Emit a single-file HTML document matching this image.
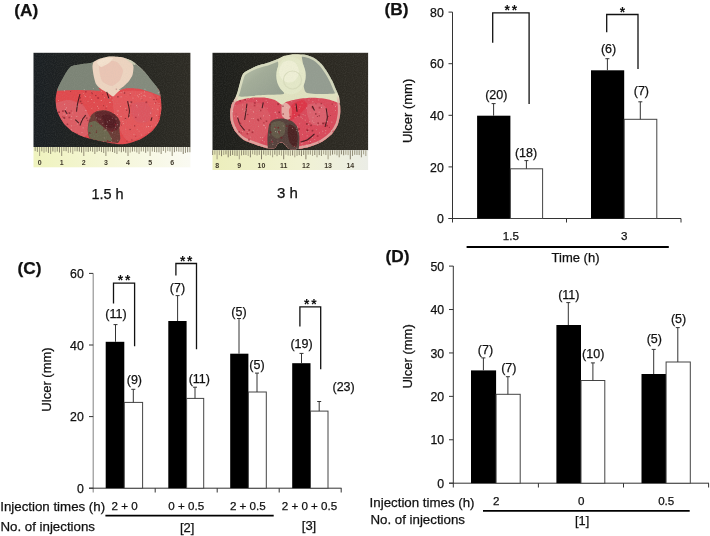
<!DOCTYPE html>
<html><head><meta charset="utf-8"><title>Figure</title>
<style>
html,body{margin:0;padding:0;background:#fff;}
body{width:710px;height:536px;overflow:hidden;position:relative;}
svg{position:absolute;left:0;top:0;display:block;}
text{font-family:"Liberation Sans", Arial, Helvetica, sans-serif;fill:#111;stroke:#111;stroke-width:0.25px;}
</style></head><body>
<svg width="710" height="536" viewBox="0 0 710 536">
<defs>
<filter id="soft" x="-5%" y="-5%" width="110%" height="110%"><feGaussianBlur stdDeviation="0.55"/></filter>
<filter id="soft3" x="-20%" y="-20%" width="140%" height="140%"><feGaussianBlur stdDeviation="2.5"/></filter>
<linearGradient id="bg1" x1="0" y1="0" x2="1" y2="0"><stop offset="0" stop-color="#1a1f23"/><stop offset="0.45" stop-color="#22231f"/><stop offset="1" stop-color="#2d2b24"/></linearGradient>
<linearGradient id="bg2" x1="0" y1="0" x2="1" y2="0"><stop offset="0" stop-color="#1c1d1a"/><stop offset="0.5" stop-color="#28261f"/><stop offset="1" stop-color="#2e2b24"/></linearGradient>
<linearGradient id="rul1" x1="0" y1="0" x2="1" y2="0"><stop offset="0" stop-color="#eff3be"/><stop offset="0.5" stop-color="#f5f6d8"/><stop offset="1" stop-color="#fafaf2"/></linearGradient>
<linearGradient id="rul2" x1="0" y1="0" x2="1" y2="0"><stop offset="0" stop-color="#eceebc"/><stop offset="0.55" stop-color="#f1f2d2"/><stop offset="1" stop-color="#ebede6"/></linearGradient>
<linearGradient id="gl2" x1="0" y1="0" x2="1" y2="1"><stop offset="0" stop-color="#c4ccb4"/><stop offset="0.45" stop-color="#a2ac98"/><stop offset="1" stop-color="#929c8e"/></linearGradient>
<linearGradient id="base1" gradientUnits="userSpaceOnUse" x1="0" y1="52" x2="0" y2="146"><stop offset="0" stop-color="#7f8778"/><stop offset="0.38" stop-color="#7f8778"/><stop offset="0.39" stop-color="#e0484e"/><stop offset="1" stop-color="#e0484e"/></linearGradient>
<filter id="grain" x="0" y="0" width="100%" height="100%"><feTurbulence type="fractalNoise" baseFrequency="0.9" numOctaves="1" seed="4" result="n"/><feColorMatrix in="n" type="matrix" values="0 0 0 0 0.5  0 0 0 0 0.5  0 0 0 0 0.45  1.2 0 0 0 -0.45"/></filter>
<linearGradient id="rim2" gradientUnits="userSpaceOnUse" x1="0" y1="52" x2="0" y2="150"><stop offset="0" stop-color="#e2e4c6"/><stop offset="0.44" stop-color="#e2e4c6"/><stop offset="0.5" stop-color="#e0b4aa"/><stop offset="1" stop-color="#e0b4aa"/></linearGradient>
</defs>
<rect x="33.5" y="52.8" width="156.9" height="94.2" fill="url(#bg1)"/>
<clipPath id="cp1"><path d="M70.67,66.73 C72.40,65.42 77.73,64.83 79.97,64.41 C82.20,63.99 89.48,63.38 91.58,62.78 C93.69,62.19 97.74,59.50 99.72,58.83 C101.70,58.16 107.70,56.66 110.18,56.51 C112.66,56.36 120.60,56.94 122.96,57.44 C125.31,57.93 130.52,60.16 132.25,61.16 C133.99,62.15 137.74,65.39 139.23,66.73 C140.71,68.07 144.71,72.02 146.20,73.70 C147.69,75.39 151.81,80.80 153.17,82.54 C154.53,84.27 158.19,88.48 158.98,89.97 C159.77,91.46 160.33,94.55 160.61,96.48 C160.88,98.41 161.68,105.50 161.54,108.10 C161.39,110.70 160.23,118.40 159.21,120.88 C158.20,123.36 153.89,129.43 152.01,131.34 C150.12,133.25 143.91,137.54 141.55,138.78 C139.20,140.01 132.16,142.36 129.93,142.96 C127.70,143.55 122.74,144.35 120.63,144.35 C118.53,144.35 112.66,143.40 110.18,142.96 C107.70,142.51 100.12,140.79 97.39,140.17 C94.67,139.55 87.22,138.04 84.61,137.15 C82.01,136.26 75.22,133.29 72.99,131.80 C70.76,130.32 65.36,125.36 63.70,123.20 C62.04,121.05 58.29,114.06 57.42,111.58 C56.56,109.11 55.56,102.32 55.56,99.97 C55.56,97.61 56.56,91.99 57.42,89.51 C58.29,87.03 62.28,79.15 63.70,76.73 C65.11,74.30 68.93,68.05 70.67,66.73 Z"/></clipPath>
<g filter="url(#soft)">
<path d="M70.67,66.73 C72.40,65.42 77.73,64.83 79.97,64.41 C82.20,63.99 89.48,63.38 91.58,62.78 C93.69,62.19 97.74,59.50 99.72,58.83 C101.70,58.16 107.70,56.66 110.18,56.51 C112.66,56.36 120.60,56.94 122.96,57.44 C125.31,57.93 130.52,60.16 132.25,61.16 C133.99,62.15 137.74,65.39 139.23,66.73 C140.71,68.07 144.71,72.02 146.20,73.70 C147.69,75.39 151.81,80.80 153.17,82.54 C154.53,84.27 158.19,88.48 158.98,89.97 C159.77,91.46 160.33,94.55 160.61,96.48 C160.88,98.41 161.68,105.50 161.54,108.10 C161.39,110.70 160.23,118.40 159.21,120.88 C158.20,123.36 153.89,129.43 152.01,131.34 C150.12,133.25 143.91,137.54 141.55,138.78 C139.20,140.01 132.16,142.36 129.93,142.96 C127.70,143.55 122.74,144.35 120.63,144.35 C118.53,144.35 112.66,143.40 110.18,142.96 C107.70,142.51 100.12,140.79 97.39,140.17 C94.67,139.55 87.22,138.04 84.61,137.15 C82.01,136.26 75.22,133.29 72.99,131.80 C70.76,130.32 65.36,125.36 63.70,123.20 C62.04,121.05 58.29,114.06 57.42,111.58 C56.56,109.11 55.56,102.32 55.56,99.97 C55.56,97.61 56.56,91.99 57.42,89.51 C58.29,87.03 62.28,79.15 63.70,76.73 C65.11,74.30 68.93,68.05 70.67,66.73 Z" fill="url(#base1)" />
<g clip-path="url(#cp1)">
<path d="M55.56,103.45 C57.00,101.84 66.53,99.72 69.51,99.97 C72.48,100.21 81.22,103.67 83.45,105.78 C85.68,107.88 89.93,116.74 90.42,119.72 C90.92,122.69 89.34,131.68 88.10,133.66 C86.86,135.65 81.28,138.81 78.80,138.31 C76.32,137.81 67.29,131.49 64.86,129.01 C62.43,126.54 57.02,117.80 56.03,115.07 C55.04,112.34 54.13,105.06 55.56,103.45 Z" fill="#da6068" opacity="0.85"/>
<path d="M113.66,94.16 C115.65,92.05 128.29,90.79 132.25,90.67 C136.22,90.55 148.00,91.38 150.85,92.99 C153.70,94.60 158.36,102.43 158.98,105.78 C159.60,109.12 158.51,121.02 156.66,124.37 C154.80,127.71 144.65,135.41 141.55,137.15 C138.45,138.88 130.09,141.75 127.61,140.63 C125.13,139.52 119.80,129.91 118.31,126.69 C116.82,123.47 114.16,113.89 113.66,110.42 C113.17,106.95 111.68,96.26 113.66,94.16 Z" fill="#e45a5e" opacity="0.8"/>
<path d="M132.25,103.45 C133.87,102.34 144.09,101.30 146.20,102.29 C148.31,103.28 151.88,110.64 152.01,112.75 C152.13,114.85 148.97,121.05 147.36,122.04 C145.75,123.03 138.64,123.03 136.90,122.04 C135.17,121.05 131.59,114.73 131.09,112.75 C130.60,110.76 130.64,104.57 132.25,103.45 Z" fill="#d85460" opacity="0.7"/>
<path d="M48.59,89.97 C46.11,88.44 51.50,78.59 53.24,75.56 C54.97,72.54 62.38,63.48 64.86,61.62 C67.34,59.76 73.38,58.63 76.48,58.13 C79.58,57.64 92.12,55.61 93.91,56.97 C95.69,58.34 93.09,68.44 93.21,70.92 C93.34,73.39 94.50,78.35 95.07,80.21 C95.64,82.07 98.06,87.23 98.56,88.35 C99.05,89.46 102.07,90.50 99.72,90.67 C97.36,90.84 81.93,90.05 76.48,89.97 C71.03,89.90 51.07,91.51 48.59,89.97 Z" fill="#7c8476" />
<path d="M92.50,66.00 C92.66,64.29 93.99,60.17 95.00,59.00 C96.01,57.83 100.19,55.64 102.00,55.00 C103.81,54.36 109.55,53.21 112.00,53.00 C114.45,52.79 122.23,52.79 125.00,53.00 C127.77,53.21 135.33,54.04 138.00,55.00 C140.67,55.96 148.08,60.40 150.00,62.00 C151.92,63.60 156.64,68.83 156.00,70.00 C155.36,71.17 146.03,72.36 144.00,73.00 C141.97,73.64 138.49,75.15 137.00,76.00 C135.51,76.85 131.39,79.83 130.00,81.00 C128.61,82.17 125.28,85.83 124.00,87.00 C122.72,88.17 119.17,90.99 118.00,92.00 C116.83,93.01 114.07,96.39 113.00,96.50 C111.93,96.61 109.28,93.80 108.00,93.00 C106.72,92.20 102.28,89.96 101.00,89.00 C99.72,88.04 96.80,85.49 96.00,84.00 C95.20,82.51 93.87,76.92 93.50,75.00 C93.13,73.08 92.34,67.71 92.50,66.00 Z" fill="#edd4c0" />
<path d="M99.00,66.00 C99.53,63.87 105.08,61.43 107.00,61.00 C108.92,60.57 115.29,61.04 117.00,62.00 C118.71,62.96 122.68,68.08 123.00,70.00 C123.32,71.92 121.17,78.29 120.00,80.00 C118.83,81.71 113.92,85.89 112.00,86.00 C110.08,86.11 103.39,83.13 102.00,81.00 C100.61,78.87 98.47,68.13 99.00,66.00 Z" fill="#e8c0b0" opacity="0.75"/>
<path d="M97.00,62.00 C97.32,61.04 102.29,58.43 104.00,58.00 C105.71,57.57 112.47,57.47 113.00,58.00 C113.53,58.53 110.28,62.04 109.00,63.00 C107.72,63.96 102.28,67.11 101.00,67.00 C99.72,66.89 96.68,62.96 97.00,62.00 Z" fill="#f4e4d0" opacity="0.85"/>
<path d="M129.00,56.00 C130.01,55.57 138.44,56.04 141.00,57.00 C143.56,57.96 150.23,62.12 153.00,65.00 C155.77,67.88 165.29,80.27 167.00,84.00 C168.71,87.73 169.96,98.83 169.00,100.00 C168.04,101.17 160.03,95.85 158.00,95.00 C155.97,94.15 151.92,92.64 150.00,92.00 C148.08,91.36 142.35,89.43 140.00,89.00 C137.65,88.57 130.24,87.89 128.00,88.00 C125.76,88.11 119.43,90.21 119.00,90.00 C118.57,89.79 122.93,86.96 124.00,86.00 C125.07,85.04 128.09,82.17 129.00,81.00 C129.91,79.83 132.02,76.49 132.50,75.00 C132.98,73.51 133.61,68.49 133.50,67.00 C133.39,65.51 131.98,62.17 131.50,61.00 C131.02,59.83 127.99,56.43 129.00,56.00 Z" fill="#838a7c" />
<path d="M124.00,55.00 C124.75,54.63 131.40,55.07 133.00,55.50 C134.60,55.93 138.79,57.99 139.00,59.00 C139.21,60.01 135.85,64.57 135.00,65.00 C134.15,65.43 131.96,63.64 131.00,63.00 C130.04,62.36 126.75,59.85 126.00,59.00 C125.25,58.15 123.25,55.37 124.00,55.00 Z" fill="#d0d0b6" opacity="0.9"/>
<path d="M91.10,115.40 C92.02,114.21 95.64,111.64 97.20,111.10 C98.76,110.56 104.06,110.11 105.70,110.30 C107.34,110.49 111.32,112.16 112.60,112.90 C113.88,113.64 116.88,116.20 117.70,117.20 C118.52,118.20 120.11,120.93 120.30,122.30 C120.49,123.67 119.50,128.26 119.50,130.00 C119.50,131.74 120.49,137.22 120.30,138.60 C120.11,139.98 119.26,142.56 117.70,142.90 C116.14,143.24 107.89,141.94 105.70,141.80 C103.51,141.66 98.94,142.04 97.20,141.60 C95.46,141.16 90.41,138.94 89.40,137.70 C88.39,136.46 87.79,131.64 87.70,130.00 C87.61,128.36 88.24,123.86 88.60,122.30 C88.96,120.74 90.18,116.59 91.10,115.40 Z" fill="#6a3a34" />
<path d="M95.40,113.00 C96.04,112.02 101.34,110.85 103.00,110.80 C104.66,110.75 109.45,111.79 111.00,112.50 C112.55,113.21 116.59,116.27 117.50,117.50 C118.41,118.73 119.55,122.67 119.50,124.00 C119.45,125.33 118.01,129.25 117.00,130.00 C115.99,130.75 111.49,131.32 110.00,131.00 C108.51,130.68 104.39,128.17 103.00,127.00 C101.61,125.83 97.81,121.49 97.00,120.00 C96.19,118.51 94.76,113.98 95.40,113.00 Z" fill="#5e2228" opacity="0.8"/>
<path d="M102.00,116.00 C102.43,114.72 108.51,114.47 110.00,115.00 C111.49,115.53 115.57,119.61 116.00,121.00 C116.43,122.39 115.07,127.36 114.00,128.00 C112.93,128.64 107.28,128.28 106.00,127.00 C104.72,125.72 101.57,117.28 102.00,116.00 Z" fill="#3e1418" opacity="0.4"/>
<path d="M89.00,123.00 C89.75,122.04 93.61,120.68 95.00,121.00 C96.39,121.32 100.61,124.83 102.00,126.00 C103.39,127.17 106.93,130.51 108.00,132.00 C109.07,133.49 112.25,138.99 112.00,140.00 C111.75,141.01 107.28,141.36 105.70,141.50 C104.12,141.64 98.92,141.73 97.20,141.30 C95.48,140.87 90.58,138.71 89.60,137.50 C88.62,136.29 88.06,131.55 88.00,130.00 C87.94,128.45 88.25,123.96 89.00,123.00 Z" fill="#6c6c50" opacity="0.9"/>
</g>
<path d="M79.97,94.16 C79.72,95.15 78.01,101.59 77.64,103.45 C77.27,105.31 76.60,110.72 76.48,111.58" stroke="#2e1014" stroke-width="1.1" fill="none" opacity="0.85"/>
<path d="M85.78,115.07 C85.40,115.57 82.91,118.60 82.29,119.72 C81.67,120.83 80.21,124.91 79.97,125.53" stroke="#2e1014" stroke-width="1.1" fill="none" opacity="0.85"/>
<path d="M127.61,101.13 C127.80,102.12 129.37,108.69 129.47,110.42 C129.56,112.16 128.64,116.65 128.54,117.39" stroke="#2e1014" stroke-width="1.1" fill="none" opacity="0.85"/>
<path d="M152.01,117.39 C151.88,117.77 150.97,120.51 150.85,120.88" stroke="#2e1014" stroke-width="1.1" fill="none" opacity="0.85"/>
<path d="M64.86,110.42 C65.11,110.79 66.94,113.54 67.18,113.91" stroke="#2e1014" stroke-width="1.1" fill="none" opacity="0.85"/>
<path d="M75.32,119.72 C75.69,120.09 78.43,122.83 78.80,123.20" stroke="#2e1014" stroke-width="1.1" fill="none" opacity="0.85"/>
<path d="M106.69,91.83 C106.94,92.57 108.77,98.06 109.01,98.80" stroke="#2e1014" stroke-width="1.1" fill="none" opacity="0.85"/>
</g>
<g clip-path="url(#cp1)">
<rect x="89.7" y="96.6" width="0.8" height="0.8" fill="#f6e0d0" opacity="0.55"/>
<rect x="62.8" y="118.5" width="0.8" height="0.8" fill="#ffffff" opacity="0.55"/>
<rect x="117.4" y="139.9" width="0.8" height="0.8" fill="#f0d8c8" opacity="0.55"/>
<rect x="59.0" y="112.7" width="0.8" height="0.8" fill="#f6e0d0" opacity="0.55"/>
<rect x="80.8" y="119.4" width="0.8" height="0.8" fill="#f6e0d0" opacity="0.55"/>
<rect x="143.5" y="95.1" width="0.8" height="0.8" fill="#f0d8c8" opacity="0.55"/>
<rect x="122.5" y="121.2" width="0.8" height="0.8" fill="#f6e0d0" opacity="0.55"/>
<rect x="116.8" y="110.6" width="0.8" height="0.8" fill="#f0d8c8" opacity="0.55"/>
<rect x="60.0" y="136.9" width="0.8" height="0.8" fill="#ffffff" opacity="0.55"/>
<rect x="99.8" y="118.8" width="0.8" height="0.8" fill="#ffffff" opacity="0.55"/>
<rect x="114.9" y="126.9" width="0.8" height="0.8" fill="#f6e0d0" opacity="0.55"/>
<rect x="117.2" y="124.4" width="0.8" height="0.8" fill="#ffffff" opacity="0.55"/>
<rect x="65.4" y="128.6" width="0.8" height="0.8" fill="#f6e0d0" opacity="0.55"/>
<rect x="121.2" y="116.3" width="0.8" height="0.8" fill="#e8c0b0" opacity="0.55"/>
<rect x="138.2" y="114.5" width="0.8" height="0.8" fill="#e8c0b0" opacity="0.55"/>
<rect x="93.7" y="102.2" width="0.8" height="0.8" fill="#f0d8c8" opacity="0.55"/>
<rect x="129.8" y="101.9" width="0.8" height="0.8" fill="#ffffff" opacity="0.55"/>
<rect x="111.2" y="137.9" width="0.8" height="0.8" fill="#e8c0b0" opacity="0.55"/>
<rect x="85.8" y="143.9" width="0.8" height="0.8" fill="#f6e0d0" opacity="0.55"/>
<rect x="109.8" y="97.4" width="0.8" height="0.8" fill="#ffffff" opacity="0.55"/>
<rect x="71.3" y="115.9" width="0.8" height="0.8" fill="#f6e0d0" opacity="0.55"/>
<rect x="157.9" y="92.4" width="0.8" height="0.8" fill="#ffffff" opacity="0.55"/>
<rect x="91.4" y="108.0" width="0.8" height="0.8" fill="#e8c0b0" opacity="0.55"/>
<rect x="117.0" y="114.0" width="0.8" height="0.8" fill="#f6e0d0" opacity="0.55"/>
<rect x="156.1" y="115.0" width="0.8" height="0.8" fill="#f6e0d0" opacity="0.55"/>
<rect x="61.5" y="128.0" width="0.8" height="0.8" fill="#e8c0b0" opacity="0.55"/>
<rect x="85.5" y="110.0" width="0.8" height="0.8" fill="#ffffff" opacity="0.55"/>
<rect x="57.4" y="114.3" width="0.8" height="0.8" fill="#f0d8c8" opacity="0.55"/>
<rect x="120.4" y="116.1" width="0.8" height="0.8" fill="#f0d8c8" opacity="0.55"/>
<rect x="137.2" y="95.4" width="0.8" height="0.8" fill="#f0d8c8" opacity="0.55"/>
<rect x="97.6" y="140.3" width="0.8" height="0.8" fill="#e8c0b0" opacity="0.55"/>
<rect x="63.6" y="113.6" width="0.8" height="0.8" fill="#ffffff" opacity="0.55"/>
<rect x="149.5" y="134.7" width="0.8" height="0.8" fill="#ffffff" opacity="0.55"/>
<rect x="130.6" y="144.2" width="0.8" height="0.8" fill="#e8c0b0" opacity="0.55"/>
<rect x="157.5" y="96.6" width="0.8" height="0.8" fill="#f0d8c8" opacity="0.55"/>
<rect x="71.2" y="125.5" width="0.8" height="0.8" fill="#f6e0d0" opacity="0.55"/>
<rect x="106.9" y="121.6" width="0.8" height="0.8" fill="#ffffff" opacity="0.55"/>
<rect x="85.2" y="96.3" width="0.8" height="0.8" fill="#ffffff" opacity="0.55"/>
<rect x="120.2" y="106.2" width="0.8" height="0.8" fill="#f0d8c8" opacity="0.55"/>
<rect x="128.9" y="117.4" width="0.8" height="0.8" fill="#f6e0d0" opacity="0.55"/>
<rect x="103.9" y="137.6" width="0.8" height="0.8" fill="#e8c0b0" opacity="0.55"/>
<rect x="97.6" y="110.5" width="0.8" height="0.8" fill="#e8c0b0" opacity="0.55"/>
<rect x="122.9" y="91.5" width="0.8" height="0.8" fill="#f6e0d0" opacity="0.55"/>
<rect x="160.4" y="113.1" width="0.8" height="0.8" fill="#f6e0d0" opacity="0.55"/>
<rect x="91.4" y="91.0" width="0.8" height="0.8" fill="#f6e0d0" opacity="0.55"/>
<rect x="115.6" y="118.6" width="0.8" height="0.8" fill="#ffffff" opacity="0.55"/>
<rect x="120.7" y="92.0" width="0.8" height="0.8" fill="#f0d8c8" opacity="0.55"/>
<rect x="120.7" y="96.5" width="0.8" height="0.8" fill="#ffffff" opacity="0.55"/>
<rect x="157.2" y="122.3" width="0.8" height="0.8" fill="#e8c0b0" opacity="0.55"/>
<rect x="68.1" y="136.4" width="0.8" height="0.8" fill="#e8c0b0" opacity="0.55"/>
<rect x="106.4" y="105.8" width="0.8" height="0.8" fill="#f0d8c8" opacity="0.55"/>
<rect x="65.9" y="107.5" width="0.8" height="0.8" fill="#ffffff" opacity="0.55"/>
<rect x="106.2" y="127.4" width="0.8" height="0.8" fill="#f6e0d0" opacity="0.55"/>
<rect x="77.0" y="142.3" width="0.8" height="0.8" fill="#ffffff" opacity="0.55"/>
<rect x="70.7" y="119.0" width="0.8" height="0.8" fill="#f6e0d0" opacity="0.55"/>
<rect x="136.1" y="105.0" width="0.8" height="0.8" fill="#f6e0d0" opacity="0.55"/>
<rect x="129.5" y="102.9" width="0.8" height="0.8" fill="#ffffff" opacity="0.55"/>
<rect x="152.2" y="108.3" width="0.8" height="0.8" fill="#f0d8c8" opacity="0.55"/>
<rect x="112.0" y="132.4" width="0.8" height="0.8" fill="#ffffff" opacity="0.55"/>
<rect x="123.1" y="123.0" width="0.8" height="0.8" fill="#f0d8c8" opacity="0.55"/>
<rect x="141.3" y="134.6" width="0.8" height="0.8" fill="#f0d8c8" opacity="0.55"/>
<rect x="76.4" y="116.1" width="0.8" height="0.8" fill="#f6e0d0" opacity="0.55"/>
<rect x="160.9" y="133.0" width="0.8" height="0.8" fill="#e8c0b0" opacity="0.55"/>
<rect x="82.7" y="127.5" width="0.8" height="0.8" fill="#ffffff" opacity="0.55"/>
<rect x="102.9" y="141.4" width="0.8" height="0.8" fill="#ffffff" opacity="0.55"/>
<rect x="157.2" y="108.8" width="0.8" height="0.8" fill="#f0d8c8" opacity="0.55"/>
<rect x="65.9" y="114.8" width="0.8" height="0.8" fill="#ffffff" opacity="0.55"/>
<rect x="76.9" y="123.6" width="0.8" height="0.8" fill="#f6e0d0" opacity="0.55"/>
<rect x="106.3" y="125.2" width="0.8" height="0.8" fill="#f6e0d0" opacity="0.55"/>
<rect x="144.3" y="94.8" width="0.8" height="0.8" fill="#e8c0b0" opacity="0.55"/>
<rect x="138.7" y="130.8" width="0.8" height="0.8" fill="#e8c0b0" opacity="0.55"/>
<rect x="150.1" y="112.7" width="0.8" height="0.8" fill="#ffffff" opacity="0.55"/>
<rect x="64.3" y="141.9" width="0.8" height="0.8" fill="#e8c0b0" opacity="0.55"/>
<rect x="104.6" y="130.4" width="0.8" height="0.8" fill="#f6e0d0" opacity="0.55"/>
<rect x="132.6" y="97.7" width="0.8" height="0.8" fill="#f0d8c8" opacity="0.55"/>
<rect x="57.9" y="121.7" width="0.8" height="0.8" fill="#e8c0b0" opacity="0.55"/>
<rect x="141.3" y="96.3" width="0.8" height="0.8" fill="#e8c0b0" opacity="0.55"/>
<rect x="125.3" y="108.0" width="0.8" height="0.8" fill="#f0d8c8" opacity="0.55"/>
<rect x="57.3" y="133.6" width="0.8" height="0.8" fill="#f6e0d0" opacity="0.55"/>
<rect x="111.3" y="141.2" width="0.8" height="0.8" fill="#e8c0b0" opacity="0.55"/>
<rect x="160.6" y="99.1" width="0.8" height="0.8" fill="#f0d8c8" opacity="0.55"/>
<rect x="58.0" y="100.1" width="0.8" height="0.8" fill="#f0d8c8" opacity="0.55"/>
<rect x="136.7" y="106.6" width="0.8" height="0.8" fill="#e8c0b0" opacity="0.55"/>
<rect x="144.3" y="91.5" width="0.8" height="0.8" fill="#ffffff" opacity="0.55"/>
<rect x="151.1" y="125.8" width="0.8" height="0.8" fill="#e8c0b0" opacity="0.55"/>
<rect x="143.5" y="138.1" width="0.8" height="0.8" fill="#f0d8c8" opacity="0.55"/>
<rect x="111.9" y="117.8" width="0.8" height="0.8" fill="#f6e0d0" opacity="0.55"/>
<rect x="148.4" y="132.3" width="0.8" height="0.8" fill="#f6e0d0" opacity="0.55"/>
<rect x="138.0" y="96.5" width="0.8" height="0.8" fill="#f0d8c8" opacity="0.55"/>
<rect x="105.7" y="129.3" width="0.8" height="0.8" fill="#f6e0d0" opacity="0.55"/>
<rect x="89.9" y="117.5" width="0.8" height="0.8" fill="#e8c0b0" opacity="0.55"/>
<rect x="138.9" y="94.0" width="0.8" height="0.8" fill="#f6e0d0" opacity="0.55"/>
<rect x="81.6" y="103.8" width="0.8" height="0.8" fill="#f6e0d0" opacity="0.55"/>
<rect x="109.3" y="120.0" width="0.8" height="0.8" fill="#f6e0d0" opacity="0.55"/>
<rect x="102.4" y="122.9" width="0.8" height="0.8" fill="#f0d8c8" opacity="0.55"/>
<rect x="129.1" y="113.8" width="0.8" height="0.8" fill="#e8c0b0" opacity="0.55"/>
<rect x="109.3" y="102.1" width="0.8" height="0.8" fill="#ffffff" opacity="0.55"/>
<rect x="153.7" y="138.9" width="0.8" height="0.8" fill="#f0d8c8" opacity="0.55"/>
<rect x="144.9" y="95.8" width="0.8" height="0.8" fill="#f6e0d0" opacity="0.55"/>
<rect x="97.0" y="106.0" width="0.8" height="0.8" fill="#f0d8c8" opacity="0.55"/>
<rect x="100.8" y="100.1" width="0.8" height="0.8" fill="#ffffff" opacity="0.55"/>
<rect x="138.9" y="139.1" width="0.8" height="0.8" fill="#f0d8c8" opacity="0.55"/>
<rect x="155.5" y="124.7" width="0.8" height="0.8" fill="#ffffff" opacity="0.55"/>
<rect x="70.3" y="138.3" width="0.8" height="0.8" fill="#e8c0b0" opacity="0.55"/>
<rect x="78.5" y="142.3" width="0.8" height="0.8" fill="#e8c0b0" opacity="0.55"/>
<rect x="149.7" y="97.3" width="0.8" height="0.8" fill="#f0d8c8" opacity="0.55"/>
<rect x="72.3" y="112.6" width="0.8" height="0.8" fill="#e8c0b0" opacity="0.55"/>
<rect x="91.3" y="99.2" width="0.8" height="0.8" fill="#ffffff" opacity="0.55"/>
<rect x="64.9" y="108.9" width="0.8" height="0.8" fill="#ffffff" opacity="0.55"/>
<rect x="114.3" y="113.1" width="0.8" height="0.8" fill="#f6e0d0" opacity="0.55"/>
<rect x="96.1" y="117.5" width="0.8" height="0.8" fill="#ffffff" opacity="0.55"/>
<rect x="109.8" y="91.7" width="0.8" height="0.8" fill="#f0d8c8" opacity="0.55"/>
<rect x="159.0" y="94.0" width="0.8" height="0.8" fill="#ffffff" opacity="0.55"/>
<rect x="84.1" y="139.6" width="0.8" height="0.8" fill="#f0d8c8" opacity="0.55"/>
<rect x="83.9" y="95.4" width="0.8" height="0.8" fill="#e8c0b0" opacity="0.55"/>
<rect x="145.9" y="126.5" width="0.8" height="0.8" fill="#ffffff" opacity="0.55"/>
<rect x="98.4" y="118.6" width="0.8" height="0.8" fill="#e8c0b0" opacity="0.55"/>
<rect x="129.9" y="93.1" width="0.8" height="0.8" fill="#f6e0d0" opacity="0.55"/>
<rect x="140.6" y="98.5" width="0.8" height="0.8" fill="#f6e0d0" opacity="0.55"/>
<rect x="83.8" y="89.0" width="0.8" height="0.8" fill="#f6e0d0" opacity="0.55"/>
<rect x="140.8" y="92.8" width="0.8" height="0.8" fill="#f0d8c8" opacity="0.55"/>
<rect x="62.1" y="137.2" width="0.8" height="0.8" fill="#e8c0b0" opacity="0.55"/>
<rect x="56.2" y="144.7" width="0.8" height="0.8" fill="#e8c0b0" opacity="0.55"/>
<rect x="154.2" y="103.3" width="0.8" height="0.8" fill="#f0d8c8" opacity="0.55"/>
<rect x="59.6" y="128.4" width="0.8" height="0.8" fill="#f6e0d0" opacity="0.55"/>
<rect x="158.7" y="102.9" width="0.8" height="0.8" fill="#f0d8c8" opacity="0.55"/>
<rect x="76.6" y="105.8" width="0.8" height="0.8" fill="#ffffff" opacity="0.55"/>
<rect x="111.8" y="99.7" width="0.8" height="0.8" fill="#e8c0b0" opacity="0.55"/>
<rect x="108.5" y="98.1" width="0.8" height="0.8" fill="#ffffff" opacity="0.55"/>
<rect x="141.0" y="144.7" width="0.8" height="0.8" fill="#f6e0d0" opacity="0.55"/>
<rect x="56.6" y="129.8" width="0.8" height="0.8" fill="#f0d8c8" opacity="0.55"/>
<rect x="110.0" y="102.0" width="0.8" height="0.8" fill="#e8c0b0" opacity="0.55"/>
<rect x="66.4" y="134.7" width="0.8" height="0.8" fill="#e8c0b0" opacity="0.55"/>
<rect x="125.2" y="119.1" width="0.8" height="0.8" fill="#e8c0b0" opacity="0.55"/>
<rect x="158.8" y="105.5" width="0.8" height="0.8" fill="#f0d8c8" opacity="0.55"/>
<rect x="160.1" y="107.5" width="0.8" height="0.8" fill="#f0d8c8" opacity="0.55"/>
<rect x="98.3" y="107.8" width="0.8" height="0.8" fill="#f6e0d0" opacity="0.55"/>
<rect x="144.6" y="88.8" width="0.8" height="0.8" fill="#ffffff" opacity="0.55"/>
<rect x="101.1" y="91.2" width="0.8" height="0.8" fill="#e8c0b0" opacity="0.55"/>
<rect x="148.1" y="126.2" width="0.8" height="0.8" fill="#ffffff" opacity="0.55"/>
<rect x="119.1" y="127.5" width="0.8" height="0.8" fill="#f6e0d0" opacity="0.55"/>
<rect x="104.2" y="97.0" width="0.8" height="0.8" fill="#e8c0b0" opacity="0.55"/>
<rect x="55.4" y="108.8" width="0.8" height="0.8" fill="#ffffff" opacity="0.55"/>
<rect x="159.1" y="119.2" width="0.8" height="0.8" fill="#f0d8c8" opacity="0.55"/>
<rect x="58.7" y="138.3" width="0.8" height="0.8" fill="#f0d8c8" opacity="0.55"/>
<rect x="93.2" y="88.1" width="0.8" height="0.8" fill="#e8c0b0" opacity="0.55"/>
<rect x="64.0" y="103.9" width="0.8" height="0.8" fill="#f0d8c8" opacity="0.55"/>
<rect x="81.6" y="132.2" width="0.8" height="0.8" fill="#f6e0d0" opacity="0.55"/>
<rect x="83.3" y="93.1" width="0.8" height="0.8" fill="#e8c0b0" opacity="0.55"/>
<rect x="117.8" y="110.5" width="0.8" height="0.8" fill="#ffffff" opacity="0.55"/>
<rect x="87.6" y="101.3" width="0.8" height="0.8" fill="#f0d8c8" opacity="0.55"/>
<rect x="125.4" y="128.8" width="0.8" height="0.8" fill="#e8c0b0" opacity="0.55"/>
<rect x="136.8" y="129.1" width="0.8" height="0.8" fill="#e8c0b0" opacity="0.55"/>
<rect x="71.0" y="129.3" width="0.8" height="0.8" fill="#f0d8c8" opacity="0.55"/>
<rect x="59.7" y="135.6" width="0.8" height="0.8" fill="#e8c0b0" opacity="0.55"/>
<rect x="133.5" y="134.3" width="0.8" height="0.8" fill="#f0d8c8" opacity="0.55"/>
<rect x="152.4" y="130.9" width="0.8" height="0.8" fill="#f6e0d0" opacity="0.55"/>
<rect x="143.4" y="121.3" width="0.8" height="0.8" fill="#f0d8c8" opacity="0.55"/>
<rect x="64.1" y="90.4" width="0.8" height="0.8" fill="#ffffff" opacity="0.55"/>
<rect x="157.7" y="109.5" width="0.8" height="0.8" fill="#e8c0b0" opacity="0.55"/>
<rect x="114.8" y="123.8" width="1.6" height="1.6" fill="#a02030" opacity="0.6"/>
<rect x="81.2" y="103.0" width="1.3" height="1.3" fill="#8a1c28" opacity="0.6"/>
<rect x="135.1" y="116.7" width="1.4" height="1.4" fill="#a02030" opacity="0.6"/>
<rect x="111.3" y="130.5" width="1.4" height="1.4" fill="#8a1c28" opacity="0.6"/>
<rect x="145.5" y="101.4" width="1.7" height="1.7" fill="#8a1c28" opacity="0.6"/>
<rect x="134.2" y="143.6" width="1.4" height="1.4" fill="#701820" opacity="0.6"/>
<rect x="63.2" y="139.9" width="1.1" height="1.1" fill="#8a1c28" opacity="0.6"/>
<rect x="121.0" y="124.6" width="0.9" height="0.9" fill="#8a1c28" opacity="0.6"/>
<rect x="90.5" y="125.1" width="1.6" height="1.6" fill="#a02030" opacity="0.6"/>
<rect x="115.8" y="88.7" width="0.9" height="0.9" fill="#701820" opacity="0.6"/>
<rect x="159.1" y="93.7" width="1.1" height="1.1" fill="#701820" opacity="0.6"/>
<rect x="86.1" y="117.4" width="1.4" height="1.4" fill="#701820" opacity="0.6"/>
<rect x="137.1" y="144.6" width="1.5" height="1.5" fill="#701820" opacity="0.6"/>
<rect x="159.7" y="141.4" width="0.8" height="0.8" fill="#701820" opacity="0.6"/>
<rect x="63.2" y="116.9" width="2.0" height="2.0" fill="#701820" opacity="0.6"/>
<rect x="96.4" y="140.2" width="1.9" height="1.9" fill="#8a1c28" opacity="0.6"/>
<rect x="117.2" y="96.1" width="1.4" height="1.4" fill="#701820" opacity="0.6"/>
<rect x="69.2" y="134.8" width="1.4" height="1.4" fill="#8a1c28" opacity="0.6"/>
<rect x="130.3" y="101.2" width="1.9" height="1.9" fill="#701820" opacity="0.6"/>
<rect x="97.2" y="97.1" width="1.9" height="1.9" fill="#a02030" opacity="0.6"/>
<rect x="103.2" y="105.2" width="1.0" height="1.0" fill="#701820" opacity="0.6"/>
<rect x="95.2" y="94.9" width="1.2" height="1.2" fill="#701820" opacity="0.6"/>
<rect x="135.3" y="135.8" width="0.9" height="0.9" fill="#8a1c28" opacity="0.6"/>
<rect x="131.3" y="139.4" width="1.1" height="1.1" fill="#701820" opacity="0.6"/>
<rect x="62.0" y="110.2" width="1.8" height="1.8" fill="#8a1c28" opacity="0.6"/>
<rect x="93.6" y="112.4" width="1.1" height="1.1" fill="#8a1c28" opacity="0.6"/>
<rect x="85.0" y="90.9" width="1.6" height="1.6" fill="#a02030" opacity="0.6"/>
<rect x="155.1" y="102.2" width="1.1" height="1.1" fill="#a02030" opacity="0.6"/>
<rect x="88.8" y="132.1" width="1.7" height="1.7" fill="#701820" opacity="0.6"/>
<rect x="149.6" y="134.3" width="1.6" height="1.6" fill="#a02030" opacity="0.6"/>
<rect x="113.8" y="129.0" width="0.9" height="0.9" fill="#a02030" opacity="0.6"/>
<rect x="99.0" y="123.1" width="1.0" height="1.0" fill="#701820" opacity="0.6"/>
<rect x="107.0" y="140.0" width="1.5" height="1.5" fill="#8a1c28" opacity="0.6"/>
<rect x="105.5" y="107.6" width="1.2" height="1.2" fill="#a02030" opacity="0.6"/>
<rect x="134.0" y="125.2" width="1.3" height="1.3" fill="#8a1c28" opacity="0.6"/>
<rect x="87.2" y="119.8" width="1.3" height="1.3" fill="#8a1c28" opacity="0.6"/>
<rect x="123.8" y="92.3" width="1.4" height="1.4" fill="#701820" opacity="0.6"/>
<rect x="113.9" y="113.8" width="1.2" height="1.2" fill="#701820" opacity="0.6"/>
<rect x="100.7" y="119.2" width="1.1" height="1.1" fill="#8a1c28" opacity="0.6"/>
<rect x="91.6" y="93.2" width="1.1" height="1.1" fill="#701820" opacity="0.6"/>
<rect x="141.6" y="99.5" width="0.8" height="0.8" fill="#701820" opacity="0.6"/>
<rect x="96.0" y="130.5" width="1.1" height="1.1" fill="#701820" opacity="0.6"/>
<rect x="91.2" y="91.5" width="1.1" height="1.1" fill="#701820" opacity="0.6"/>
<rect x="68.5" y="116.7" width="1.6" height="1.6" fill="#8a1c28" opacity="0.6"/>
<rect x="64.9" y="139.1" width="1.3" height="1.3" fill="#a02030" opacity="0.6"/>
<rect x="102.7" y="142.4" width="1.8" height="1.8" fill="#8a1c28" opacity="0.6"/>
<rect x="68.6" y="112.2" width="1.7" height="1.7" fill="#701820" opacity="0.6"/>
<rect x="158.6" y="115.9" width="0.9" height="0.9" fill="#a02030" opacity="0.6"/>
<rect x="146.5" y="143.4" width="1.1" height="1.1" fill="#8a1c28" opacity="0.6"/>
<rect x="78.9" y="96.7" width="2.0" height="2.0" fill="#8a1c28" opacity="0.6"/>
<rect x="155.7" y="129.1" width="1.6" height="1.6" fill="#701820" opacity="0.6"/>
<rect x="64.1" y="132.3" width="0.8" height="0.8" fill="#8a1c28" opacity="0.6"/>
<rect x="79.9" y="140.4" width="1.6" height="1.6" fill="#701820" opacity="0.6"/>
<rect x="158.0" y="123.7" width="1.4" height="1.4" fill="#701820" opacity="0.6"/>
<rect x="129.7" y="94.4" width="0.9" height="0.9" fill="#a02030" opacity="0.6"/>
<rect x="156.0" y="98.9" width="1.1" height="1.1" fill="#a02030" opacity="0.6"/>
<rect x="55.1" y="118.6" width="2.0" height="2.0" fill="#701820" opacity="0.6"/>
<rect x="157.6" y="124.7" width="1.9" height="1.9" fill="#701820" opacity="0.6"/>
<rect x="111.3" y="119.2" width="0.8" height="0.8" fill="#701820" opacity="0.6"/>
<rect x="130.4" y="105.5" width="0.8" height="0.8" fill="#701820" opacity="0.6"/>
<rect x="149.7" y="124.9" width="0.9" height="0.9" fill="#8a1c28" opacity="0.6"/>
<rect x="126.4" y="140.7" width="1.1" height="1.1" fill="#8a1c28" opacity="0.6"/>
<rect x="129.5" y="128.9" width="1.2" height="1.2" fill="#701820" opacity="0.6"/>
<rect x="76.2" y="133.4" width="1.7" height="1.7" fill="#a02030" opacity="0.6"/>
<rect x="62.2" y="116.3" width="1.0" height="1.0" fill="#8a1c28" opacity="0.6"/>
<rect x="79.7" y="100.6" width="1.7" height="1.7" fill="#701820" opacity="0.6"/>
<rect x="66.7" y="123.5" width="1.5" height="1.5" fill="#8a1c28" opacity="0.6"/>
<rect x="106.9" y="139.9" width="0.9" height="0.9" fill="#a02030" opacity="0.6"/>
<rect x="70.7" y="110.4" width="1.1" height="1.1" fill="#a02030" opacity="0.6"/>
<rect x="70.2" y="91.0" width="0.9" height="0.9" fill="#701820" opacity="0.6"/>
<rect x="103.1" y="128.6" width="1.2" height="1.2" fill="#8a1c28" opacity="0.6"/>
<rect x="161.7" y="141.1" width="1.2" height="1.2" fill="#8a1c28" opacity="0.6"/>
<rect x="124.8" y="117.9" width="1.4" height="1.4" fill="#701820" opacity="0.6"/>
<rect x="126.1" y="109.6" width="1.2" height="1.2" fill="#701820" opacity="0.6"/>
<rect x="102.3" y="94.2" width="0.9" height="0.9" fill="#8a1c28" opacity="0.6"/>
<rect x="92.6" y="142.5" width="0.9" height="0.9" fill="#8a1c28" opacity="0.6"/>
<rect x="95.7" y="131.8" width="1.2" height="1.2" fill="#701820" opacity="0.6"/>
<rect x="64.4" y="128.2" width="1.0" height="1.0" fill="#a02030" opacity="0.6"/>
<rect x="153.4" y="99.0" width="1.2" height="1.2" fill="#701820" opacity="0.6"/>
<rect x="58.2" y="111.4" width="1.8" height="1.8" fill="#701820" opacity="0.6"/>
</g>
<rect x="33.5" y="52.8" width="156.9" height="94.2" filter="url(#grain)" opacity="0.18"/>
<rect x="33.5" y="147.0" width="156.90" height="20.30" fill="url(#rul1)"/>
<line x1="35.18" y1="147.0" x2="35.18" y2="151.08" stroke="#8a846e" stroke-width="0.9"/>
<line x1="37.39" y1="147.0" x2="37.39" y2="151.93" stroke="#8a846e" stroke-width="0.9"/>
<line x1="39.60" y1="147.0" x2="39.60" y2="156.00" stroke="#9c967e" stroke-width="0.9"/>
<line x1="41.81" y1="147.0" x2="41.81" y2="151.39" stroke="#8a846e" stroke-width="0.9"/>
<line x1="44.02" y1="147.0" x2="44.02" y2="152.80" stroke="#9c967e" stroke-width="0.9"/>
<line x1="46.23" y1="147.0" x2="46.23" y2="151.73" stroke="#9c967e" stroke-width="0.9"/>
<line x1="48.44" y1="147.0" x2="48.44" y2="152.92" stroke="#7a7460" stroke-width="0.9"/>
<line x1="50.65" y1="147.0" x2="50.65" y2="154.00" stroke="#8a846e" stroke-width="0.9"/>
<line x1="52.86" y1="147.0" x2="52.86" y2="151.52" stroke="#7a7460" stroke-width="0.9"/>
<line x1="55.07" y1="147.0" x2="55.07" y2="152.38" stroke="#9c967e" stroke-width="0.9"/>
<line x1="57.28" y1="147.0" x2="57.28" y2="151.59" stroke="#7a7460" stroke-width="0.9"/>
<line x1="59.49" y1="147.0" x2="59.49" y2="152.51" stroke="#7a7460" stroke-width="0.9"/>
<line x1="61.70" y1="147.0" x2="61.70" y2="156.00" stroke="#8a846e" stroke-width="0.9"/>
<line x1="63.91" y1="147.0" x2="63.91" y2="151.05" stroke="#8a846e" stroke-width="0.9"/>
<line x1="66.12" y1="147.0" x2="66.12" y2="151.21" stroke="#7a7460" stroke-width="0.9"/>
<line x1="68.33" y1="147.0" x2="68.33" y2="152.91" stroke="#9c967e" stroke-width="0.9"/>
<line x1="70.54" y1="147.0" x2="70.54" y2="152.58" stroke="#9c967e" stroke-width="0.9"/>
<line x1="72.75" y1="147.0" x2="72.75" y2="154.00" stroke="#9c967e" stroke-width="0.9"/>
<line x1="74.96" y1="147.0" x2="74.96" y2="151.27" stroke="#9c967e" stroke-width="0.9"/>
<line x1="77.17" y1="147.0" x2="77.17" y2="151.37" stroke="#7a7460" stroke-width="0.9"/>
<line x1="79.38" y1="147.0" x2="79.38" y2="151.61" stroke="#7a7460" stroke-width="0.9"/>
<line x1="81.59" y1="147.0" x2="81.59" y2="152.55" stroke="#7a7460" stroke-width="0.9"/>
<line x1="83.80" y1="147.0" x2="83.80" y2="156.00" stroke="#8a846e" stroke-width="0.9"/>
<line x1="86.01" y1="147.0" x2="86.01" y2="151.66" stroke="#9c967e" stroke-width="0.9"/>
<line x1="88.22" y1="147.0" x2="88.22" y2="151.92" stroke="#7a7460" stroke-width="0.9"/>
<line x1="90.43" y1="147.0" x2="90.43" y2="151.16" stroke="#8a846e" stroke-width="0.9"/>
<line x1="92.64" y1="147.0" x2="92.64" y2="151.78" stroke="#8a846e" stroke-width="0.9"/>
<line x1="94.85" y1="147.0" x2="94.85" y2="154.00" stroke="#8a846e" stroke-width="0.9"/>
<line x1="97.06" y1="147.0" x2="97.06" y2="151.82" stroke="#7a7460" stroke-width="0.9"/>
<line x1="99.27" y1="147.0" x2="99.27" y2="151.07" stroke="#7a7460" stroke-width="0.9"/>
<line x1="101.48" y1="147.0" x2="101.48" y2="152.09" stroke="#8a846e" stroke-width="0.9"/>
<line x1="103.69" y1="147.0" x2="103.69" y2="152.96" stroke="#8a846e" stroke-width="0.9"/>
<line x1="105.90" y1="147.0" x2="105.90" y2="156.00" stroke="#8a846e" stroke-width="0.9"/>
<line x1="108.11" y1="147.0" x2="108.11" y2="151.53" stroke="#8a846e" stroke-width="0.9"/>
<line x1="110.32" y1="147.0" x2="110.32" y2="151.42" stroke="#9c967e" stroke-width="0.9"/>
<line x1="112.53" y1="147.0" x2="112.53" y2="152.00" stroke="#7a7460" stroke-width="0.9"/>
<line x1="114.74" y1="147.0" x2="114.74" y2="152.94" stroke="#8a846e" stroke-width="0.9"/>
<line x1="116.95" y1="147.0" x2="116.95" y2="154.00" stroke="#8a846e" stroke-width="0.9"/>
<line x1="119.16" y1="147.0" x2="119.16" y2="151.27" stroke="#9c967e" stroke-width="0.9"/>
<line x1="121.37" y1="147.0" x2="121.37" y2="152.24" stroke="#7a7460" stroke-width="0.9"/>
<line x1="123.58" y1="147.0" x2="123.58" y2="151.47" stroke="#7a7460" stroke-width="0.9"/>
<line x1="125.79" y1="147.0" x2="125.79" y2="152.69" stroke="#7a7460" stroke-width="0.9"/>
<line x1="128.00" y1="147.0" x2="128.00" y2="156.00" stroke="#8a846e" stroke-width="0.9"/>
<line x1="130.21" y1="147.0" x2="130.21" y2="152.56" stroke="#9c967e" stroke-width="0.9"/>
<line x1="132.42" y1="147.0" x2="132.42" y2="151.59" stroke="#7a7460" stroke-width="0.9"/>
<line x1="134.63" y1="147.0" x2="134.63" y2="151.54" stroke="#9c967e" stroke-width="0.9"/>
<line x1="136.84" y1="147.0" x2="136.84" y2="152.48" stroke="#8a846e" stroke-width="0.9"/>
<line x1="139.05" y1="147.0" x2="139.05" y2="154.00" stroke="#9c967e" stroke-width="0.9"/>
<line x1="141.26" y1="147.0" x2="141.26" y2="151.49" stroke="#8a846e" stroke-width="0.9"/>
<line x1="143.47" y1="147.0" x2="143.47" y2="151.47" stroke="#9c967e" stroke-width="0.9"/>
<line x1="145.68" y1="147.0" x2="145.68" y2="152.77" stroke="#7a7460" stroke-width="0.9"/>
<line x1="147.89" y1="147.0" x2="147.89" y2="151.38" stroke="#8a846e" stroke-width="0.9"/>
<line x1="150.10" y1="147.0" x2="150.10" y2="156.00" stroke="#9c967e" stroke-width="0.9"/>
<line x1="152.31" y1="147.0" x2="152.31" y2="151.50" stroke="#8a846e" stroke-width="0.9"/>
<line x1="154.52" y1="147.0" x2="154.52" y2="152.01" stroke="#8a846e" stroke-width="0.9"/>
<line x1="156.73" y1="147.0" x2="156.73" y2="152.30" stroke="#8a846e" stroke-width="0.9"/>
<line x1="158.94" y1="147.0" x2="158.94" y2="152.31" stroke="#8a846e" stroke-width="0.9"/>
<line x1="161.15" y1="147.0" x2="161.15" y2="154.00" stroke="#8a846e" stroke-width="0.9"/>
<line x1="163.36" y1="147.0" x2="163.36" y2="151.01" stroke="#8a846e" stroke-width="0.9"/>
<line x1="165.57" y1="147.0" x2="165.57" y2="152.68" stroke="#9c967e" stroke-width="0.9"/>
<line x1="167.78" y1="147.0" x2="167.78" y2="151.08" stroke="#9c967e" stroke-width="0.9"/>
<line x1="169.99" y1="147.0" x2="169.99" y2="151.47" stroke="#8a846e" stroke-width="0.9"/>
<line x1="172.20" y1="147.0" x2="172.20" y2="156.00" stroke="#8a846e" stroke-width="0.9"/>
<line x1="174.41" y1="147.0" x2="174.41" y2="152.20" stroke="#7a7460" stroke-width="0.9"/>
<line x1="176.62" y1="147.0" x2="176.62" y2="151.39" stroke="#8a846e" stroke-width="0.9"/>
<line x1="178.83" y1="147.0" x2="178.83" y2="151.74" stroke="#8a846e" stroke-width="0.9"/>
<line x1="181.04" y1="147.0" x2="181.04" y2="151.90" stroke="#9c967e" stroke-width="0.9"/>
<line x1="183.25" y1="147.0" x2="183.25" y2="154.00" stroke="#7a7460" stroke-width="0.9"/>
<line x1="185.46" y1="147.0" x2="185.46" y2="152.89" stroke="#8a846e" stroke-width="0.9"/>
<line x1="187.67" y1="147.0" x2="187.67" y2="152.27" stroke="#7a7460" stroke-width="0.9"/>
<line x1="189.88" y1="147.0" x2="189.88" y2="152.24" stroke="#8a846e" stroke-width="0.9"/>
<text x="39.60" y="165.30" font-size="7" text-anchor="middle" font-weight="bold" style="fill:#3e382a;stroke:none">0</text>
<text x="61.70" y="165.30" font-size="7" text-anchor="middle" font-weight="bold" style="fill:#3e382a;stroke:none">1</text>
<text x="83.80" y="165.30" font-size="7" text-anchor="middle" font-weight="bold" style="fill:#3e382a;stroke:none">2</text>
<text x="105.90" y="165.30" font-size="7" text-anchor="middle" font-weight="bold" style="fill:#3e382a;stroke:none">3</text>
<text x="128.00" y="165.30" font-size="7" text-anchor="middle" font-weight="bold" style="fill:#3e382a;stroke:none">4</text>
<text x="150.10" y="165.30" font-size="7" text-anchor="middle" font-weight="bold" style="fill:#3e382a;stroke:none">5</text>
<text x="172.20" y="165.30" font-size="7" text-anchor="middle" font-weight="bold" style="fill:#3e382a;stroke:none">6</text>
<rect x="212.5" y="52.8" width="155.6" height="97.5" fill="url(#bg2)"/>
<clipPath id="cp2"><path d="M243.45,73.30 C245.19,71.56 253.66,67.43 256.27,66.31 C258.88,65.19 265.69,63.56 267.92,62.82 C270.16,62.07 275.50,60.07 277.24,59.32 C278.98,58.58 282.50,56.37 284.24,55.83 C285.98,55.28 291.32,54.32 293.56,54.19 C295.79,54.07 302.97,54.24 305.21,54.66 C307.45,55.08 312.79,57.16 314.53,58.16 C316.27,59.15 320.16,62.49 321.52,63.98 C322.89,65.47 326.23,70.40 327.35,72.14 C328.47,73.88 331.14,78.56 332.01,80.30 C332.88,82.04 334.76,86.71 335.51,88.45 C336.25,90.19 338.50,94.74 339.00,96.61 C339.50,98.47 340.04,104.07 340.17,105.93 C340.29,107.80 340.42,112.10 340.17,114.09 C339.92,116.08 338.71,122.46 337.84,124.57 C336.97,126.69 333.75,132.03 332.01,133.90 C330.27,135.76 323.88,140.69 321.52,142.05 C319.16,143.42 312.36,145.97 309.87,146.71 C307.38,147.46 300.46,148.80 298.22,149.04 C295.98,149.29 290.26,149.47 288.90,149.04 C287.53,148.62 286.15,145.78 285.40,145.08 C284.66,144.39 282.73,142.67 281.91,142.52 C281.08,142.37 278.46,143.11 277.71,143.68 C276.96,144.26 275.96,147.38 274.91,147.88 C273.87,148.38 270.04,148.72 267.92,148.35 C265.81,147.97 257.71,145.30 255.10,144.38 C252.49,143.46 245.57,141.09 243.45,139.72 C241.34,138.36 236.61,133.43 235.30,131.57 C233.98,129.70 231.65,124.23 231.10,122.24 C230.55,120.26 230.09,114.86 230.17,112.92 C230.24,110.98 231.25,105.68 231.80,104.07 C232.35,102.45 234.67,99.12 235.30,97.77 C235.92,96.43 237.13,93.10 237.63,91.48 C238.12,89.87 239.34,84.57 239.96,82.63 C240.58,80.69 241.71,75.04 243.45,73.30 Z"/></clipPath>
<g filter="url(#soft)">
<path d="M243.45,73.30 C245.19,71.56 253.66,67.43 256.27,66.31 C258.88,65.19 265.69,63.56 267.92,62.82 C270.16,62.07 275.50,60.07 277.24,59.32 C278.98,58.58 282.50,56.37 284.24,55.83 C285.98,55.28 291.32,54.32 293.56,54.19 C295.79,54.07 302.97,54.24 305.21,54.66 C307.45,55.08 312.79,57.16 314.53,58.16 C316.27,59.15 320.16,62.49 321.52,63.98 C322.89,65.47 326.23,70.40 327.35,72.14 C328.47,73.88 331.14,78.56 332.01,80.30 C332.88,82.04 334.76,86.71 335.51,88.45 C336.25,90.19 338.50,94.74 339.00,96.61 C339.50,98.47 340.04,104.07 340.17,105.93 C340.29,107.80 340.42,112.10 340.17,114.09 C339.92,116.08 338.71,122.46 337.84,124.57 C336.97,126.69 333.75,132.03 332.01,133.90 C330.27,135.76 323.88,140.69 321.52,142.05 C319.16,143.42 312.36,145.97 309.87,146.71 C307.38,147.46 300.46,148.80 298.22,149.04 C295.98,149.29 290.26,149.47 288.90,149.04 C287.53,148.62 286.15,145.78 285.40,145.08 C284.66,144.39 282.73,142.67 281.91,142.52 C281.08,142.37 278.46,143.11 277.71,143.68 C276.96,144.26 275.96,147.38 274.91,147.88 C273.87,148.38 270.04,148.72 267.92,148.35 C265.81,147.97 257.71,145.30 255.10,144.38 C252.49,143.46 245.57,141.09 243.45,139.72 C241.34,138.36 236.61,133.43 235.30,131.57 C233.98,129.70 231.65,124.23 231.10,122.24 C230.55,120.26 230.09,114.86 230.17,112.92 C230.24,110.98 231.25,105.68 231.80,104.07 C232.35,102.45 234.67,99.12 235.30,97.77 C235.92,96.43 237.13,93.10 237.63,91.48 C238.12,89.87 239.34,84.57 239.96,82.63 C240.58,80.69 241.71,75.04 243.45,73.30 Z" fill="#e0e2c0" />
<g clip-path="url(#cp2)">
<path d="M244.90,70.73 C246.77,68.47 254.11,64.87 257.53,63.61 C260.96,62.34 274.76,57.77 276.97,58.91 C279.18,60.05 277.78,71.10 278.27,74.30 C278.75,77.49 280.95,86.76 281.51,88.87 C282.06,90.98 285.49,93.40 283.45,94.06 C281.41,94.71 267.23,94.79 262.39,95.03 C257.56,95.27 240.48,97.41 238.10,96.32 C235.71,95.23 239.32,87.55 240.04,84.82 C240.77,82.09 243.04,73.00 244.90,70.73 Z" fill="url(#gl2)" />
<path d="M302.08,54.86 C303.32,53.56 313.17,56.08 315.84,57.29 C318.52,58.50 325.11,63.69 327.18,66.20 C329.25,68.70 334.11,77.98 335.28,80.77 C336.46,83.57 339.75,91.02 338.20,92.44 C336.64,93.85 324.12,94.06 320.70,94.06 C317.28,94.06 307.99,93.68 306.13,92.44 C304.26,91.19 303.42,84.85 303.21,82.39 C303.00,79.94 304.30,72.37 304.18,69.44 C304.06,66.50 300.83,56.15 302.08,54.86 Z" fill="#939c90" />
<ellipse cx="291.0" cy="75.5" rx="14.8" ry="19.0" fill="#e4e8c8"/>
<ellipse cx="289.0" cy="71.5" rx="10" ry="11" fill="#eef0d6" opacity="0.9"/>
<ellipse cx="292.5" cy="80" rx="9" ry="9" fill="none" stroke="#d4d8b8" stroke-width="1.2" opacity="0.8"/>
<path d="M228.30,105.93 C229.67,103.82 237.47,100.97 239.96,100.10 C242.44,99.23 248.87,98.02 251.61,97.77 C254.34,97.53 263.11,97.53 265.59,97.77 C268.08,98.02 273.17,99.36 274.91,100.10 C276.65,100.85 280.66,104.59 281.91,104.77 C283.15,104.94 284.83,102.36 286.57,101.74 C288.31,101.11 295.48,99.36 298.22,98.94 C300.95,98.52 309.22,97.77 312.20,97.77 C315.18,97.77 323.70,98.52 326.18,98.94 C328.67,99.36 333.77,100.99 335.51,101.74 C337.25,102.48 341.50,103.49 342.50,105.93 C343.49,108.37 345.57,121.09 344.83,124.57 C344.08,128.05 338.49,136.07 335.51,138.56 C332.52,141.04 320.84,146.39 316.86,147.88 C312.88,149.37 302.69,152.04 298.22,152.54 C293.74,153.04 279.89,153.04 274.91,152.54 C269.94,152.04 256.08,149.37 251.61,147.88 C247.13,146.39 235.58,141.54 232.97,138.56 C230.36,135.57 227.64,123.39 227.14,119.91 C226.64,116.43 226.94,108.04 228.30,105.93 Z" fill="#d9485a" />
<path d="M230.17,108.26 C231.78,106.65 241.34,102.93 244.62,102.44 C247.90,101.94 258.20,102.23 260.93,103.60 C263.67,104.97 269.51,112.27 270.25,115.25 C271.00,118.24 269.17,128.58 267.92,131.57 C266.68,134.55 261.09,142.22 258.60,143.22 C256.11,144.21 247.35,142.38 244.62,140.89 C241.88,139.40 234.58,131.72 232.97,129.24 C231.35,126.75 229.77,119.82 229.47,117.58 C229.17,115.35 228.55,109.88 230.17,108.26 Z" fill="#da5c66" opacity="0.8"/>
<path d="M281.91,104.77 C282.45,103.47 285.99,102.76 287.03,103.13 C288.08,103.51 291.25,106.72 291.69,108.26 C292.14,109.80 291.77,116.34 291.23,117.58 C290.68,118.83 287.56,120.16 286.57,119.91 C285.57,119.67 282.40,116.87 281.91,115.25 C281.41,113.64 281.36,106.06 281.91,104.77 Z" fill="#e8bcb0" opacity="0.85"/>
<path d="M307.54,104.77 C309.03,103.52 319.29,102.73 321.52,103.60 C323.76,104.47 328.27,110.69 328.51,112.92 C328.76,115.16 325.59,123.33 323.85,124.57 C322.11,125.82 313.94,125.57 312.20,124.57 C310.46,123.58 308.04,117.37 307.54,115.25 C307.04,113.14 306.05,106.01 307.54,104.77 Z" fill="#dc6a74" opacity="0.7"/>
<path d="M243.45,73.30 C245.19,71.56 253.66,67.43 256.27,66.31 C258.88,65.19 265.69,63.56 267.92,62.82 C270.16,62.07 275.50,60.07 277.24,59.32 C278.98,58.58 282.50,56.37 284.24,55.83 C285.98,55.28 291.32,54.32 293.56,54.19 C295.79,54.07 302.97,54.24 305.21,54.66 C307.45,55.08 312.79,57.16 314.53,58.16 C316.27,59.15 320.16,62.49 321.52,63.98 C322.89,65.47 326.23,70.40 327.35,72.14 C328.47,73.88 331.14,78.56 332.01,80.30 C332.88,82.04 334.76,86.71 335.51,88.45 C336.25,90.19 338.50,94.74 339.00,96.61 C339.50,98.47 340.04,104.07 340.17,105.93 C340.29,107.80 340.42,112.10 340.17,114.09 C339.92,116.08 338.71,122.46 337.84,124.57 C336.97,126.69 333.75,132.03 332.01,133.90 C330.27,135.76 323.88,140.69 321.52,142.05 C319.16,143.42 312.36,145.97 309.87,146.71 C307.38,147.46 300.46,148.80 298.22,149.04 C295.98,149.29 290.26,149.47 288.90,149.04 C287.53,148.62 286.15,145.78 285.40,145.08 C284.66,144.39 282.73,142.67 281.91,142.52 C281.08,142.37 278.46,143.11 277.71,143.68 C276.96,144.26 275.96,147.38 274.91,147.88 C273.87,148.38 270.04,148.72 267.92,148.35 C265.81,147.97 257.71,145.30 255.10,144.38 C252.49,143.46 245.57,141.09 243.45,139.72 C241.34,138.36 236.61,133.43 235.30,131.57 C233.98,129.70 231.65,124.23 231.10,122.24 C230.55,120.26 230.09,114.86 230.17,112.92 C230.24,110.98 231.25,105.68 231.80,104.07 C232.35,102.45 234.67,99.12 235.30,97.77 C235.92,96.43 237.13,93.10 237.63,91.48 C238.12,89.87 239.34,84.57 239.96,82.63 C240.58,80.69 241.71,75.04 243.45,73.30 Z" fill="none" stroke="url(#rim2)" stroke-width="5" opacity="0.8" clip-path="url(#cp2)"/>
<path d="M293.56,103.60 C295.05,102.48 301.39,99.86 302.88,100.10 C304.37,100.35 308.04,104.32 307.54,105.93 C307.04,107.55 299.96,113.76 298.22,115.25 C296.48,116.74 292.22,120.41 291.23,119.91 C290.23,119.42 288.65,112.33 288.90,110.59 C289.15,108.85 292.07,104.72 293.56,103.60 Z" fill="#e02838" opacity="0.55"/>
<path d="M269.09,124.57 C269.68,122.59 271.63,120.56 273.05,119.91 C274.47,119.27 280.38,118.39 282.37,118.52 C284.36,118.64 290.10,120.18 291.69,121.08 C293.28,121.97 296.47,125.24 297.29,126.91 C298.11,128.57 299.28,134.21 299.38,136.69 C299.48,139.18 299.34,148.77 298.22,150.21 C297.10,151.65 290.26,150.76 288.90,150.21 C287.53,149.66 286.15,145.90 285.40,145.08 C284.66,144.26 282.73,142.67 281.91,142.52 C281.08,142.37 278.46,142.99 277.71,143.68 C276.96,144.38 275.91,148.40 274.91,149.04 C273.92,149.69 269.18,150.86 268.39,149.74 C267.59,148.63 267.38,141.24 267.46,138.56 C267.53,135.87 268.49,126.56 269.09,124.57 Z" fill="#54403a" />
<path d="M271.42,123.41 C272.29,122.04 278.08,120.95 279.57,121.08 C281.07,121.20 284.90,123.21 285.40,124.57 C285.90,125.94 285.11,132.41 284.24,133.90 C283.37,135.39 278.61,138.56 277.24,138.56 C275.88,138.56 272.04,135.51 271.42,133.90 C270.80,132.28 270.55,124.78 271.42,123.41 Z" fill="#6c6a50" opacity="0.6"/>
<path d="M288.90,124.57 C289.77,123.95 294.94,126.58 295.89,128.07 C296.83,129.56 297.75,136.57 297.75,138.56 C297.75,140.55 296.71,146.22 295.89,146.71 C295.07,147.21 290.93,144.59 290.06,143.22 C289.19,141.85 287.86,135.89 287.73,133.90 C287.61,131.91 288.03,125.20 288.90,124.57 Z" fill="#4a1a1e" opacity="0.8"/>
</g>
<path d="M246.95,103.60 C246.82,104.59 246.03,111.18 245.78,112.92 C245.53,114.66 244.74,119.17 244.62,119.91" stroke="#2e1014" stroke-width="1.1" fill="none" opacity="0.85"/>
<path d="M237.63,117.58 C237.88,118.33 239.21,123.21 239.96,124.57 C240.70,125.94 244.12,129.78 244.62,130.40" stroke="#2e1014" stroke-width="1.1" fill="none" opacity="0.85"/>
<path d="M326.18,108.26 C326.31,109.26 327.47,115.59 327.35,117.58 C327.22,119.57 325.27,125.91 325.02,126.91" stroke="#2e1014" stroke-width="1.1" fill="none" opacity="0.85"/>
<path d="M314.53,133.90 C313.79,134.52 309.03,138.85 307.54,139.72 C306.05,140.59 301.29,141.80 300.55,142.05" stroke="#2e1014" stroke-width="1.1" fill="none" opacity="0.85"/>
<path d="M263.26,102.44 C263.14,103.06 262.22,107.64 262.10,108.26" stroke="#2e1014" stroke-width="1.1" fill="none" opacity="0.85"/>
<path d="M295.89,103.60 C296.01,104.47 296.93,110.89 297.05,111.76" stroke="#2e1014" stroke-width="1.1" fill="none" opacity="0.85"/>
<path d="M312.20,105.93 C312.45,106.43 314.28,110.09 314.53,110.59" stroke="#2e1014" stroke-width="1.1" fill="none" opacity="0.85"/>
</g>
<g clip-path="url(#cp2)">
<rect x="234.2" y="115.7" width="0.8" height="0.8" fill="#f6e0d0" opacity="0.55"/>
<rect x="252.8" y="111.3" width="0.8" height="0.8" fill="#f0d8c8" opacity="0.55"/>
<rect x="321.3" y="140.6" width="0.8" height="0.8" fill="#e8c0b0" opacity="0.55"/>
<rect x="306.0" y="107.6" width="0.8" height="0.8" fill="#ffffff" opacity="0.55"/>
<rect x="238.7" y="99.6" width="0.8" height="0.8" fill="#e8c0b0" opacity="0.55"/>
<rect x="291.4" y="101.3" width="0.8" height="0.8" fill="#f6e0d0" opacity="0.55"/>
<rect x="319.1" y="132.5" width="0.8" height="0.8" fill="#f0d8c8" opacity="0.55"/>
<rect x="301.6" y="102.7" width="0.8" height="0.8" fill="#f0d8c8" opacity="0.55"/>
<rect x="274.6" y="112.1" width="0.8" height="0.8" fill="#ffffff" opacity="0.55"/>
<rect x="304.8" y="119.7" width="0.8" height="0.8" fill="#f6e0d0" opacity="0.55"/>
<rect x="265.0" y="127.5" width="0.8" height="0.8" fill="#ffffff" opacity="0.55"/>
<rect x="276.4" y="98.9" width="0.8" height="0.8" fill="#ffffff" opacity="0.55"/>
<rect x="302.2" y="118.3" width="0.8" height="0.8" fill="#e8c0b0" opacity="0.55"/>
<rect x="252.8" y="98.3" width="0.8" height="0.8" fill="#f0d8c8" opacity="0.55"/>
<rect x="277.5" y="140.7" width="0.8" height="0.8" fill="#e8c0b0" opacity="0.55"/>
<rect x="294.7" y="117.0" width="0.8" height="0.8" fill="#f0d8c8" opacity="0.55"/>
<rect x="244.6" y="100.7" width="0.8" height="0.8" fill="#f0d8c8" opacity="0.55"/>
<rect x="301.8" y="145.3" width="0.8" height="0.8" fill="#f6e0d0" opacity="0.55"/>
<rect x="294.2" y="146.2" width="0.8" height="0.8" fill="#f0d8c8" opacity="0.55"/>
<rect x="246.3" y="112.7" width="0.8" height="0.8" fill="#f0d8c8" opacity="0.55"/>
<rect x="333.7" y="103.7" width="0.8" height="0.8" fill="#e8c0b0" opacity="0.55"/>
<rect x="314.4" y="139.2" width="0.8" height="0.8" fill="#f0d8c8" opacity="0.55"/>
<rect x="263.8" y="141.5" width="0.8" height="0.8" fill="#f6e0d0" opacity="0.55"/>
<rect x="339.3" y="123.1" width="0.8" height="0.8" fill="#f6e0d0" opacity="0.55"/>
<rect x="298.1" y="131.1" width="0.8" height="0.8" fill="#f6e0d0" opacity="0.55"/>
<rect x="331.3" y="130.3" width="0.8" height="0.8" fill="#f0d8c8" opacity="0.55"/>
<rect x="301.7" y="142.5" width="0.8" height="0.8" fill="#e8c0b0" opacity="0.55"/>
<rect x="298.8" y="108.2" width="0.8" height="0.8" fill="#e8c0b0" opacity="0.55"/>
<rect x="250.5" y="109.3" width="0.8" height="0.8" fill="#e8c0b0" opacity="0.55"/>
<rect x="335.1" y="106.1" width="0.8" height="0.8" fill="#ffffff" opacity="0.55"/>
<rect x="243.8" y="110.8" width="0.8" height="0.8" fill="#f0d8c8" opacity="0.55"/>
<rect x="234.6" y="127.2" width="0.8" height="0.8" fill="#f6e0d0" opacity="0.55"/>
<rect x="304.8" y="114.9" width="0.8" height="0.8" fill="#e8c0b0" opacity="0.55"/>
<rect x="297.1" y="126.6" width="0.8" height="0.8" fill="#ffffff" opacity="0.55"/>
<rect x="302.7" y="114.0" width="0.8" height="0.8" fill="#f0d8c8" opacity="0.55"/>
<rect x="277.7" y="132.3" width="0.8" height="0.8" fill="#e8c0b0" opacity="0.55"/>
<rect x="286.4" y="107.3" width="0.8" height="0.8" fill="#f6e0d0" opacity="0.55"/>
<rect x="299.3" y="123.5" width="0.8" height="0.8" fill="#f0d8c8" opacity="0.55"/>
<rect x="280.0" y="130.2" width="0.8" height="0.8" fill="#e8c0b0" opacity="0.55"/>
<rect x="323.7" y="140.1" width="0.8" height="0.8" fill="#e8c0b0" opacity="0.55"/>
<rect x="242.0" y="104.7" width="0.8" height="0.8" fill="#e8c0b0" opacity="0.55"/>
<rect x="270.9" y="139.7" width="0.8" height="0.8" fill="#f6e0d0" opacity="0.55"/>
<rect x="234.6" y="104.8" width="0.8" height="0.8" fill="#ffffff" opacity="0.55"/>
<rect x="317.1" y="124.6" width="0.8" height="0.8" fill="#f6e0d0" opacity="0.55"/>
<rect x="314.2" y="144.5" width="0.8" height="0.8" fill="#f0d8c8" opacity="0.55"/>
<rect x="232.9" y="101.5" width="0.8" height="0.8" fill="#f6e0d0" opacity="0.55"/>
<rect x="251.7" y="149.0" width="0.8" height="0.8" fill="#e8c0b0" opacity="0.55"/>
<rect x="262.2" y="140.2" width="0.8" height="0.8" fill="#f0d8c8" opacity="0.55"/>
<rect x="306.8" y="135.5" width="0.8" height="0.8" fill="#f0d8c8" opacity="0.55"/>
<rect x="237.3" y="116.2" width="0.8" height="0.8" fill="#ffffff" opacity="0.55"/>
<rect x="247.8" y="144.6" width="0.8" height="0.8" fill="#ffffff" opacity="0.55"/>
<rect x="331.4" y="121.7" width="0.8" height="0.8" fill="#ffffff" opacity="0.55"/>
<rect x="286.2" y="145.8" width="0.8" height="0.8" fill="#f0d8c8" opacity="0.55"/>
<rect x="296.3" y="130.0" width="0.8" height="0.8" fill="#f0d8c8" opacity="0.55"/>
<rect x="265.7" y="99.9" width="0.8" height="0.8" fill="#f0d8c8" opacity="0.55"/>
<rect x="275.2" y="131.1" width="0.8" height="0.8" fill="#ffffff" opacity="0.55"/>
<rect x="306.1" y="144.6" width="0.8" height="0.8" fill="#f0d8c8" opacity="0.55"/>
<rect x="318.7" y="111.7" width="0.8" height="0.8" fill="#f6e0d0" opacity="0.55"/>
<rect x="301.3" y="116.7" width="0.8" height="0.8" fill="#e8c0b0" opacity="0.55"/>
<rect x="292.2" y="128.2" width="0.8" height="0.8" fill="#f6e0d0" opacity="0.55"/>
<rect x="258.2" y="125.9" width="0.8" height="0.8" fill="#e8c0b0" opacity="0.55"/>
<rect x="312.6" y="117.3" width="0.8" height="0.8" fill="#e8c0b0" opacity="0.55"/>
<rect x="340.9" y="128.0" width="0.8" height="0.8" fill="#ffffff" opacity="0.55"/>
<rect x="267.1" y="102.2" width="0.8" height="0.8" fill="#f0d8c8" opacity="0.55"/>
<rect x="249.8" y="136.7" width="0.8" height="0.8" fill="#f6e0d0" opacity="0.55"/>
<rect x="263.2" y="124.8" width="0.8" height="0.8" fill="#ffffff" opacity="0.55"/>
<rect x="301.6" y="149.2" width="0.8" height="0.8" fill="#ffffff" opacity="0.55"/>
<rect x="312.1" y="136.9" width="0.8" height="0.8" fill="#f0d8c8" opacity="0.55"/>
<rect x="246.7" y="130.0" width="0.8" height="0.8" fill="#e8c0b0" opacity="0.55"/>
<rect x="276.8" y="116.9" width="0.8" height="0.8" fill="#f6e0d0" opacity="0.55"/>
<rect x="244.8" y="109.8" width="0.8" height="0.8" fill="#f6e0d0" opacity="0.55"/>
<rect x="232.5" y="98.1" width="0.8" height="0.8" fill="#ffffff" opacity="0.55"/>
<rect x="264.0" y="125.2" width="0.8" height="0.8" fill="#f0d8c8" opacity="0.55"/>
<rect x="276.3" y="113.7" width="0.8" height="0.8" fill="#f0d8c8" opacity="0.55"/>
<rect x="252.9" y="130.4" width="0.8" height="0.8" fill="#e8c0b0" opacity="0.55"/>
<rect x="247.8" y="98.7" width="0.8" height="0.8" fill="#f0d8c8" opacity="0.55"/>
<rect x="309.2" y="121.4" width="0.8" height="0.8" fill="#f6e0d0" opacity="0.55"/>
<rect x="301.5" y="143.3" width="0.8" height="0.8" fill="#ffffff" opacity="0.55"/>
<rect x="275.0" y="111.7" width="0.8" height="0.8" fill="#f6e0d0" opacity="0.55"/>
<rect x="236.3" y="140.7" width="0.8" height="0.8" fill="#ffffff" opacity="0.55"/>
<rect x="296.6" y="128.1" width="0.8" height="0.8" fill="#e8c0b0" opacity="0.55"/>
<rect x="257.8" y="145.0" width="0.8" height="0.8" fill="#f6e0d0" opacity="0.55"/>
<rect x="236.9" y="99.3" width="0.8" height="0.8" fill="#f0d8c8" opacity="0.55"/>
<rect x="256.6" y="101.0" width="0.8" height="0.8" fill="#f6e0d0" opacity="0.55"/>
<rect x="231.4" y="126.6" width="0.8" height="0.8" fill="#f0d8c8" opacity="0.55"/>
<rect x="245.9" y="108.4" width="0.8" height="0.8" fill="#e8c0b0" opacity="0.55"/>
<rect x="321.1" y="107.1" width="0.8" height="0.8" fill="#ffffff" opacity="0.55"/>
<rect x="237.1" y="130.6" width="0.8" height="0.8" fill="#e8c0b0" opacity="0.55"/>
<rect x="310.1" y="98.3" width="0.8" height="0.8" fill="#e8c0b0" opacity="0.55"/>
<rect x="313.5" y="122.2" width="0.8" height="0.8" fill="#e8c0b0" opacity="0.55"/>
<rect x="249.6" y="149.8" width="0.8" height="0.8" fill="#ffffff" opacity="0.55"/>
<rect x="256.0" y="100.0" width="0.8" height="0.8" fill="#ffffff" opacity="0.55"/>
<rect x="329.8" y="146.1" width="0.8" height="0.8" fill="#ffffff" opacity="0.55"/>
<rect x="309.7" y="111.8" width="0.8" height="0.8" fill="#e8c0b0" opacity="0.55"/>
<rect x="306.8" y="145.7" width="0.8" height="0.8" fill="#ffffff" opacity="0.55"/>
<rect x="263.1" y="146.3" width="0.8" height="0.8" fill="#f0d8c8" opacity="0.55"/>
<rect x="239.6" y="124.4" width="0.8" height="0.8" fill="#f0d8c8" opacity="0.55"/>
<rect x="259.2" y="110.3" width="0.8" height="0.8" fill="#f0d8c8" opacity="0.55"/>
<rect x="335.8" y="136.8" width="0.8" height="0.8" fill="#ffffff" opacity="0.55"/>
<rect x="251.5" y="118.2" width="0.8" height="0.8" fill="#f0d8c8" opacity="0.55"/>
<rect x="272.5" y="142.3" width="0.8" height="0.8" fill="#e8c0b0" opacity="0.55"/>
<rect x="282.9" y="125.6" width="0.8" height="0.8" fill="#f6e0d0" opacity="0.55"/>
<rect x="326.0" y="120.7" width="0.8" height="0.8" fill="#f0d8c8" opacity="0.55"/>
<rect x="293.9" y="114.0" width="0.8" height="0.8" fill="#f0d8c8" opacity="0.55"/>
<rect x="273.9" y="128.4" width="0.8" height="0.8" fill="#f0d8c8" opacity="0.55"/>
<rect x="246.2" y="99.4" width="0.8" height="0.8" fill="#f6e0d0" opacity="0.55"/>
<rect x="299.7" y="106.4" width="0.8" height="0.8" fill="#f0d8c8" opacity="0.55"/>
<rect x="308.5" y="99.6" width="0.8" height="0.8" fill="#f0d8c8" opacity="0.55"/>
<rect x="307.6" y="131.0" width="0.8" height="0.8" fill="#f6e0d0" opacity="0.55"/>
<rect x="312.5" y="101.4" width="0.8" height="0.8" fill="#ffffff" opacity="0.55"/>
<rect x="252.3" y="147.6" width="0.8" height="0.8" fill="#f6e0d0" opacity="0.55"/>
<rect x="328.5" y="137.3" width="0.8" height="0.8" fill="#e8c0b0" opacity="0.55"/>
<rect x="242.0" y="108.7" width="0.8" height="0.8" fill="#f6e0d0" opacity="0.55"/>
<rect x="233.8" y="147.4" width="0.8" height="0.8" fill="#f6e0d0" opacity="0.55"/>
<rect x="322.4" y="130.8" width="0.8" height="0.8" fill="#ffffff" opacity="0.55"/>
<rect x="283.4" y="104.9" width="0.8" height="0.8" fill="#f0d8c8" opacity="0.55"/>
<rect x="263.0" y="115.5" width="0.8" height="0.8" fill="#ffffff" opacity="0.55"/>
<rect x="232.3" y="111.3" width="0.8" height="0.8" fill="#ffffff" opacity="0.55"/>
<rect x="235.4" y="137.5" width="0.8" height="0.8" fill="#ffffff" opacity="0.55"/>
<rect x="316.2" y="129.3" width="0.8" height="0.8" fill="#e8c0b0" opacity="0.55"/>
<rect x="325.4" y="130.2" width="0.8" height="0.8" fill="#f6e0d0" opacity="0.55"/>
<rect x="318.4" y="99.6" width="0.8" height="0.8" fill="#f6e0d0" opacity="0.55"/>
<rect x="268.8" y="134.6" width="0.8" height="0.8" fill="#f0d8c8" opacity="0.55"/>
<rect x="310.0" y="141.0" width="0.8" height="0.8" fill="#ffffff" opacity="0.55"/>
<rect x="249.1" y="98.1" width="0.8" height="0.8" fill="#f0d8c8" opacity="0.55"/>
<rect x="262.3" y="137.0" width="0.8" height="0.8" fill="#f6e0d0" opacity="0.55"/>
<rect x="230.5" y="123.5" width="0.8" height="0.8" fill="#e8c0b0" opacity="0.55"/>
<rect x="307.9" y="140.9" width="0.8" height="0.8" fill="#e8c0b0" opacity="0.55"/>
<rect x="296.4" y="147.8" width="0.8" height="0.8" fill="#ffffff" opacity="0.55"/>
<rect x="294.7" y="106.3" width="0.8" height="0.8" fill="#f0d8c8" opacity="0.55"/>
<rect x="335.1" y="110.0" width="0.8" height="0.8" fill="#f0d8c8" opacity="0.55"/>
<rect x="242.3" y="131.1" width="0.8" height="0.8" fill="#f6e0d0" opacity="0.55"/>
<rect x="284.9" y="149.5" width="0.8" height="0.8" fill="#f6e0d0" opacity="0.55"/>
<rect x="300.3" y="116.5" width="0.8" height="0.8" fill="#e8c0b0" opacity="0.55"/>
<rect x="334.0" y="144.4" width="0.8" height="0.8" fill="#f6e0d0" opacity="0.55"/>
<rect x="277.3" y="131.6" width="0.8" height="0.8" fill="#ffffff" opacity="0.55"/>
<rect x="253.1" y="111.7" width="0.8" height="0.8" fill="#f0d8c8" opacity="0.55"/>
<rect x="272.5" y="144.0" width="0.8" height="0.8" fill="#f0d8c8" opacity="0.55"/>
<rect x="335.7" y="104.6" width="0.8" height="0.8" fill="#f6e0d0" opacity="0.55"/>
<rect x="269.0" y="115.0" width="0.8" height="0.8" fill="#f0d8c8" opacity="0.55"/>
<rect x="327.2" y="121.4" width="0.8" height="0.8" fill="#ffffff" opacity="0.55"/>
<rect x="249.0" y="120.8" width="0.8" height="0.8" fill="#ffffff" opacity="0.55"/>
<rect x="294.9" y="104.6" width="0.8" height="0.8" fill="#e8c0b0" opacity="0.55"/>
<rect x="302.0" y="134.2" width="0.8" height="0.8" fill="#f0d8c8" opacity="0.55"/>
<rect x="260.0" y="137.2" width="0.8" height="0.8" fill="#f0d8c8" opacity="0.55"/>
<rect x="311.0" y="148.7" width="0.8" height="0.8" fill="#ffffff" opacity="0.55"/>
<rect x="297.5" y="116.1" width="0.8" height="0.8" fill="#f0d8c8" opacity="0.55"/>
<rect x="266.7" y="107.8" width="0.8" height="0.8" fill="#f6e0d0" opacity="0.55"/>
<rect x="248.4" y="132.2" width="0.8" height="0.8" fill="#f0d8c8" opacity="0.55"/>
<rect x="273.0" y="149.2" width="0.8" height="0.8" fill="#ffffff" opacity="0.55"/>
<rect x="312.1" y="120.6" width="0.8" height="0.8" fill="#f0d8c8" opacity="0.55"/>
<rect x="242.2" y="145.4" width="0.8" height="0.8" fill="#ffffff" opacity="0.55"/>
<rect x="253.1" y="118.2" width="0.8" height="0.8" fill="#f6e0d0" opacity="0.55"/>
<rect x="231.4" y="142.4" width="0.8" height="0.8" fill="#e8c0b0" opacity="0.55"/>
<rect x="307.7" y="124.0" width="0.8" height="0.8" fill="#ffffff" opacity="0.55"/>
<rect x="281.9" y="105.4" width="0.8" height="0.8" fill="#e8c0b0" opacity="0.55"/>
<rect x="230.6" y="110.6" width="0.8" height="0.8" fill="#e8c0b0" opacity="0.55"/>
<rect x="308.5" y="128.5" width="0.8" height="0.8" fill="#e8c0b0" opacity="0.55"/>
<rect x="324.8" y="132.7" width="0.8" height="0.8" fill="#f0d8c8" opacity="0.55"/>
<rect x="306.1" y="131.4" width="0.8" height="0.8" fill="#e8c0b0" opacity="0.55"/>
<rect x="278.4" y="111.5" width="1.6" height="1.6" fill="#701820" opacity="0.6"/>
<rect x="257.1" y="118.8" width="1.7" height="1.7" fill="#8a1c28" opacity="0.6"/>
<rect x="258.0" y="120.0" width="1.3" height="1.3" fill="#a02030" opacity="0.6"/>
<rect x="326.2" y="124.9" width="1.6" height="1.6" fill="#8a1c28" opacity="0.6"/>
<rect x="330.2" y="115.1" width="0.8" height="0.8" fill="#701820" opacity="0.6"/>
<rect x="331.7" y="103.5" width="1.1" height="1.1" fill="#8a1c28" opacity="0.6"/>
<rect x="248.0" y="138.7" width="1.9" height="1.9" fill="#a02030" opacity="0.6"/>
<rect x="269.0" y="142.1" width="1.3" height="1.3" fill="#8a1c28" opacity="0.6"/>
<rect x="310.3" y="124.6" width="1.6" height="1.6" fill="#701820" opacity="0.6"/>
<rect x="288.4" y="119.3" width="1.9" height="1.9" fill="#8a1c28" opacity="0.6"/>
<rect x="340.9" y="107.6" width="1.4" height="1.4" fill="#8a1c28" opacity="0.6"/>
<rect x="311.7" y="129.9" width="1.6" height="1.6" fill="#701820" opacity="0.6"/>
<rect x="260.7" y="118.8" width="0.8" height="0.8" fill="#701820" opacity="0.6"/>
<rect x="332.5" y="130.7" width="1.6" height="1.6" fill="#a02030" opacity="0.6"/>
<rect x="259.7" y="109.7" width="1.7" height="1.7" fill="#a02030" opacity="0.6"/>
<rect x="338.8" y="149.7" width="2.0" height="2.0" fill="#701820" opacity="0.6"/>
<rect x="253.7" y="104.7" width="1.7" height="1.7" fill="#a02030" opacity="0.6"/>
<rect x="251.6" y="131.4" width="1.7" height="1.7" fill="#8a1c28" opacity="0.6"/>
<rect x="269.6" y="131.2" width="1.8" height="1.8" fill="#701820" opacity="0.6"/>
<rect x="282.4" y="113.3" width="1.5" height="1.5" fill="#8a1c28" opacity="0.6"/>
<rect x="317.3" y="122.4" width="1.7" height="1.7" fill="#8a1c28" opacity="0.6"/>
<rect x="260.0" y="117.6" width="1.1" height="1.1" fill="#701820" opacity="0.6"/>
<rect x="306.0" y="123.0" width="1.8" height="1.8" fill="#701820" opacity="0.6"/>
<rect x="270.1" y="132.0" width="1.2" height="1.2" fill="#701820" opacity="0.6"/>
<rect x="278.0" y="131.1" width="1.6" height="1.6" fill="#701820" opacity="0.6"/>
<rect x="247.1" y="113.8" width="1.3" height="1.3" fill="#8a1c28" opacity="0.6"/>
<rect x="322.7" y="145.1" width="1.7" height="1.7" fill="#8a1c28" opacity="0.6"/>
<rect x="289.4" y="115.9" width="1.5" height="1.5" fill="#a02030" opacity="0.6"/>
<rect x="231.3" y="147.5" width="1.6" height="1.6" fill="#701820" opacity="0.6"/>
<rect x="298.1" y="128.1" width="1.8" height="1.8" fill="#8a1c28" opacity="0.6"/>
<rect x="316.9" y="116.0" width="1.0" height="1.0" fill="#701820" opacity="0.6"/>
<rect x="318.7" y="106.7" width="1.9" height="1.9" fill="#a02030" opacity="0.6"/>
<rect x="339.4" y="102.7" width="1.9" height="1.9" fill="#a02030" opacity="0.6"/>
<rect x="318.3" y="141.6" width="1.0" height="1.0" fill="#a02030" opacity="0.6"/>
<rect x="253.9" y="102.1" width="1.8" height="1.8" fill="#a02030" opacity="0.6"/>
<rect x="328.9" y="126.9" width="1.1" height="1.1" fill="#8a1c28" opacity="0.6"/>
<rect x="322.6" y="122.6" width="1.5" height="1.5" fill="#701820" opacity="0.6"/>
<rect x="282.3" y="105.5" width="1.4" height="1.4" fill="#701820" opacity="0.6"/>
<rect x="248.4" y="129.2" width="1.7" height="1.7" fill="#8a1c28" opacity="0.6"/>
<rect x="324.2" y="122.3" width="1.5" height="1.5" fill="#a02030" opacity="0.6"/>
<rect x="263.2" y="122.2" width="1.3" height="1.3" fill="#a02030" opacity="0.6"/>
<rect x="238.4" y="131.1" width="1.6" height="1.6" fill="#8a1c28" opacity="0.6"/>
<rect x="232.3" y="100.4" width="1.7" height="1.7" fill="#701820" opacity="0.6"/>
<rect x="320.6" y="102.9" width="1.4" height="1.4" fill="#8a1c28" opacity="0.6"/>
<rect x="233.8" y="135.3" width="1.6" height="1.6" fill="#701820" opacity="0.6"/>
<rect x="240.6" y="132.3" width="1.2" height="1.2" fill="#a02030" opacity="0.6"/>
<rect x="292.1" y="145.4" width="1.1" height="1.1" fill="#701820" opacity="0.6"/>
<rect x="277.3" y="126.8" width="1.8" height="1.8" fill="#701820" opacity="0.6"/>
<rect x="269.8" y="123.7" width="1.2" height="1.2" fill="#701820" opacity="0.6"/>
<rect x="327.8" y="115.9" width="1.0" height="1.0" fill="#701820" opacity="0.6"/>
<rect x="318.7" y="115.2" width="1.2" height="1.2" fill="#701820" opacity="0.6"/>
<rect x="244.3" y="148.6" width="0.9" height="0.9" fill="#8a1c28" opacity="0.6"/>
<rect x="274.7" y="126.8" width="1.3" height="1.3" fill="#a02030" opacity="0.6"/>
<rect x="235.6" y="113.6" width="0.8" height="0.8" fill="#8a1c28" opacity="0.6"/>
<rect x="322.1" y="122.7" width="1.7" height="1.7" fill="#8a1c28" opacity="0.6"/>
<rect x="318.4" y="145.3" width="1.5" height="1.5" fill="#a02030" opacity="0.6"/>
<rect x="246.5" y="133.0" width="1.6" height="1.6" fill="#a02030" opacity="0.6"/>
<rect x="239.3" y="100.1" width="1.6" height="1.6" fill="#a02030" opacity="0.6"/>
<rect x="315.4" y="103.3" width="1.0" height="1.0" fill="#8a1c28" opacity="0.6"/>
<rect x="277.2" y="103.2" width="1.9" height="1.9" fill="#8a1c28" opacity="0.6"/>
<rect x="271.3" y="140.8" width="1.7" height="1.7" fill="#a02030" opacity="0.6"/>
<rect x="309.5" y="142.8" width="1.0" height="1.0" fill="#8a1c28" opacity="0.6"/>
<rect x="265.7" y="120.4" width="1.6" height="1.6" fill="#8a1c28" opacity="0.6"/>
<rect x="285.7" y="125.2" width="1.8" height="1.8" fill="#701820" opacity="0.6"/>
<rect x="294.4" y="145.8" width="1.3" height="1.3" fill="#8a1c28" opacity="0.6"/>
<rect x="306.2" y="128.9" width="2.0" height="2.0" fill="#a02030" opacity="0.6"/>
<rect x="339.8" y="122.7" width="1.3" height="1.3" fill="#8a1c28" opacity="0.6"/>
<rect x="239.3" y="122.6" width="1.9" height="1.9" fill="#a02030" opacity="0.6"/>
<rect x="231.7" y="98.2" width="1.6" height="1.6" fill="#8a1c28" opacity="0.6"/>
<rect x="340.5" y="142.6" width="1.1" height="1.1" fill="#8a1c28" opacity="0.6"/>
<rect x="244.4" y="98.9" width="1.7" height="1.7" fill="#8a1c28" opacity="0.6"/>
<rect x="280.5" y="136.7" width="1.9" height="1.9" fill="#701820" opacity="0.6"/>
<rect x="316.7" y="135.1" width="1.8" height="1.8" fill="#a02030" opacity="0.6"/>
<rect x="315.0" y="113.2" width="1.5" height="1.5" fill="#701820" opacity="0.6"/>
<rect x="281.6" y="146.5" width="1.1" height="1.1" fill="#8a1c28" opacity="0.6"/>
<rect x="310.3" y="98.6" width="0.8" height="0.8" fill="#a02030" opacity="0.6"/>
<rect x="306.9" y="130.1" width="1.3" height="1.3" fill="#701820" opacity="0.6"/>
<rect x="311.7" y="106.6" width="1.8" height="1.8" fill="#701820" opacity="0.6"/>
<rect x="298.2" y="114.4" width="1.9" height="1.9" fill="#a02030" opacity="0.6"/>
<rect x="279.1" y="133.2" width="1.0" height="1.0" fill="#8a1c28" opacity="0.6"/>
</g>
<rect x="212.5" y="52.8" width="155.6" height="97.5" filter="url(#grain)" opacity="0.18"/>
<rect x="212.5" y="150.3" width="155.60" height="19.70" fill="url(#rul2)"/>
<line x1="212.66" y1="150.3" x2="212.66" y2="155.03" stroke="#7a7460" stroke-width="0.9"/>
<line x1="214.88" y1="150.3" x2="214.88" y2="154.63" stroke="#9c967e" stroke-width="0.9"/>
<line x1="217.10" y1="150.3" x2="217.10" y2="159.30" stroke="#9c967e" stroke-width="0.9"/>
<line x1="219.32" y1="150.3" x2="219.32" y2="155.07" stroke="#9c967e" stroke-width="0.9"/>
<line x1="221.54" y1="150.3" x2="221.54" y2="156.19" stroke="#7a7460" stroke-width="0.9"/>
<line x1="223.76" y1="150.3" x2="223.76" y2="154.97" stroke="#9c967e" stroke-width="0.9"/>
<line x1="225.98" y1="150.3" x2="225.98" y2="154.42" stroke="#7a7460" stroke-width="0.9"/>
<line x1="228.20" y1="150.3" x2="228.20" y2="157.30" stroke="#7a7460" stroke-width="0.9"/>
<line x1="230.42" y1="150.3" x2="230.42" y2="155.90" stroke="#7a7460" stroke-width="0.9"/>
<line x1="232.64" y1="150.3" x2="232.64" y2="154.96" stroke="#7a7460" stroke-width="0.9"/>
<line x1="234.86" y1="150.3" x2="234.86" y2="155.75" stroke="#8a846e" stroke-width="0.9"/>
<line x1="237.08" y1="150.3" x2="237.08" y2="155.96" stroke="#7a7460" stroke-width="0.9"/>
<line x1="239.30" y1="150.3" x2="239.30" y2="159.30" stroke="#9c967e" stroke-width="0.9"/>
<line x1="241.52" y1="150.3" x2="241.52" y2="155.47" stroke="#8a846e" stroke-width="0.9"/>
<line x1="243.74" y1="150.3" x2="243.74" y2="155.05" stroke="#7a7460" stroke-width="0.9"/>
<line x1="245.96" y1="150.3" x2="245.96" y2="155.05" stroke="#8a846e" stroke-width="0.9"/>
<line x1="248.18" y1="150.3" x2="248.18" y2="155.91" stroke="#9c967e" stroke-width="0.9"/>
<line x1="250.40" y1="150.3" x2="250.40" y2="157.30" stroke="#7a7460" stroke-width="0.9"/>
<line x1="252.62" y1="150.3" x2="252.62" y2="154.30" stroke="#9c967e" stroke-width="0.9"/>
<line x1="254.84" y1="150.3" x2="254.84" y2="154.84" stroke="#8a846e" stroke-width="0.9"/>
<line x1="257.06" y1="150.3" x2="257.06" y2="155.47" stroke="#8a846e" stroke-width="0.9"/>
<line x1="259.28" y1="150.3" x2="259.28" y2="154.88" stroke="#8a846e" stroke-width="0.9"/>
<line x1="261.50" y1="150.3" x2="261.50" y2="159.30" stroke="#7a7460" stroke-width="0.9"/>
<line x1="263.72" y1="150.3" x2="263.72" y2="154.59" stroke="#7a7460" stroke-width="0.9"/>
<line x1="265.94" y1="150.3" x2="265.94" y2="155.67" stroke="#9c967e" stroke-width="0.9"/>
<line x1="268.16" y1="150.3" x2="268.16" y2="154.99" stroke="#8a846e" stroke-width="0.9"/>
<line x1="270.38" y1="150.3" x2="270.38" y2="155.38" stroke="#9c967e" stroke-width="0.9"/>
<line x1="272.60" y1="150.3" x2="272.60" y2="157.30" stroke="#9c967e" stroke-width="0.9"/>
<line x1="274.82" y1="150.3" x2="274.82" y2="154.70" stroke="#7a7460" stroke-width="0.9"/>
<line x1="277.04" y1="150.3" x2="277.04" y2="156.16" stroke="#8a846e" stroke-width="0.9"/>
<line x1="279.26" y1="150.3" x2="279.26" y2="154.92" stroke="#8a846e" stroke-width="0.9"/>
<line x1="281.48" y1="150.3" x2="281.48" y2="155.66" stroke="#9c967e" stroke-width="0.9"/>
<line x1="283.70" y1="150.3" x2="283.70" y2="159.30" stroke="#7a7460" stroke-width="0.9"/>
<line x1="285.92" y1="150.3" x2="285.92" y2="154.71" stroke="#9c967e" stroke-width="0.9"/>
<line x1="288.14" y1="150.3" x2="288.14" y2="155.47" stroke="#8a846e" stroke-width="0.9"/>
<line x1="290.36" y1="150.3" x2="290.36" y2="155.88" stroke="#9c967e" stroke-width="0.9"/>
<line x1="292.58" y1="150.3" x2="292.58" y2="155.38" stroke="#7a7460" stroke-width="0.9"/>
<line x1="294.80" y1="150.3" x2="294.80" y2="157.30" stroke="#9c967e" stroke-width="0.9"/>
<line x1="297.02" y1="150.3" x2="297.02" y2="155.84" stroke="#8a846e" stroke-width="0.9"/>
<line x1="299.24" y1="150.3" x2="299.24" y2="155.10" stroke="#7a7460" stroke-width="0.9"/>
<line x1="301.46" y1="150.3" x2="301.46" y2="156.09" stroke="#7a7460" stroke-width="0.9"/>
<line x1="303.68" y1="150.3" x2="303.68" y2="154.94" stroke="#7a7460" stroke-width="0.9"/>
<line x1="305.90" y1="150.3" x2="305.90" y2="159.30" stroke="#7a7460" stroke-width="0.9"/>
<line x1="308.12" y1="150.3" x2="308.12" y2="154.70" stroke="#8a846e" stroke-width="0.9"/>
<line x1="310.34" y1="150.3" x2="310.34" y2="154.68" stroke="#8a846e" stroke-width="0.9"/>
<line x1="312.56" y1="150.3" x2="312.56" y2="155.91" stroke="#9c967e" stroke-width="0.9"/>
<line x1="314.78" y1="150.3" x2="314.78" y2="155.03" stroke="#7a7460" stroke-width="0.9"/>
<line x1="317.00" y1="150.3" x2="317.00" y2="157.30" stroke="#9c967e" stroke-width="0.9"/>
<line x1="319.22" y1="150.3" x2="319.22" y2="155.10" stroke="#7a7460" stroke-width="0.9"/>
<line x1="321.44" y1="150.3" x2="321.44" y2="156.01" stroke="#8a846e" stroke-width="0.9"/>
<line x1="323.66" y1="150.3" x2="323.66" y2="154.39" stroke="#9c967e" stroke-width="0.9"/>
<line x1="325.88" y1="150.3" x2="325.88" y2="155.05" stroke="#8a846e" stroke-width="0.9"/>
<line x1="328.10" y1="150.3" x2="328.10" y2="159.30" stroke="#9c967e" stroke-width="0.9"/>
<line x1="330.32" y1="150.3" x2="330.32" y2="155.57" stroke="#8a846e" stroke-width="0.9"/>
<line x1="332.54" y1="150.3" x2="332.54" y2="154.61" stroke="#7a7460" stroke-width="0.9"/>
<line x1="334.76" y1="150.3" x2="334.76" y2="154.36" stroke="#9c967e" stroke-width="0.9"/>
<line x1="336.98" y1="150.3" x2="336.98" y2="155.34" stroke="#8a846e" stroke-width="0.9"/>
<line x1="339.20" y1="150.3" x2="339.20" y2="157.30" stroke="#8a846e" stroke-width="0.9"/>
<line x1="341.42" y1="150.3" x2="341.42" y2="154.37" stroke="#7a7460" stroke-width="0.9"/>
<line x1="343.64" y1="150.3" x2="343.64" y2="155.27" stroke="#7a7460" stroke-width="0.9"/>
<line x1="345.86" y1="150.3" x2="345.86" y2="154.73" stroke="#9c967e" stroke-width="0.9"/>
<line x1="348.08" y1="150.3" x2="348.08" y2="155.15" stroke="#9c967e" stroke-width="0.9"/>
<line x1="350.30" y1="150.3" x2="350.30" y2="159.30" stroke="#7a7460" stroke-width="0.9"/>
<line x1="352.52" y1="150.3" x2="352.52" y2="155.94" stroke="#8a846e" stroke-width="0.9"/>
<line x1="354.74" y1="150.3" x2="354.74" y2="154.81" stroke="#8a846e" stroke-width="0.9"/>
<line x1="356.96" y1="150.3" x2="356.96" y2="154.98" stroke="#8a846e" stroke-width="0.9"/>
<line x1="359.18" y1="150.3" x2="359.18" y2="155.06" stroke="#8a846e" stroke-width="0.9"/>
<line x1="361.40" y1="150.3" x2="361.40" y2="157.30" stroke="#8a846e" stroke-width="0.9"/>
<line x1="363.62" y1="150.3" x2="363.62" y2="154.37" stroke="#9c967e" stroke-width="0.9"/>
<line x1="365.84" y1="150.3" x2="365.84" y2="156.04" stroke="#9c967e" stroke-width="0.9"/>
<text x="217.10" y="168.00" font-size="7" text-anchor="middle" font-weight="bold" style="fill:#3e382a;stroke:none">8</text>
<text x="239.30" y="168.00" font-size="7" text-anchor="middle" font-weight="bold" style="fill:#3e382a;stroke:none">9</text>
<text x="261.50" y="168.00" font-size="7" text-anchor="middle" font-weight="bold" style="fill:#3e382a;stroke:none">10</text>
<text x="283.70" y="168.00" font-size="7" text-anchor="middle" font-weight="bold" style="fill:#3e382a;stroke:none">11</text>
<text x="305.90" y="168.00" font-size="7" text-anchor="middle" font-weight="bold" style="fill:#3e382a;stroke:none">12</text>
<text x="328.10" y="168.00" font-size="7" text-anchor="middle" font-weight="bold" style="fill:#3e382a;stroke:none">13</text>
<text x="350.30" y="168.00" font-size="7" text-anchor="middle" font-weight="bold" style="fill:#3e382a;stroke:none">14</text>
<line x1="452.50" y1="12.10" x2="452.50" y2="222.50" stroke="#333" stroke-width="1"/>
<line x1="448.50" y1="218.50" x2="681.00" y2="218.50" stroke="#333" stroke-width="1"/>
<line x1="448.50" y1="218.50" x2="452.50" y2="218.50" stroke="#333" stroke-width="1"/>
<text x="443.80" y="223.20" font-size="12.3" text-anchor="end" font-weight="normal" >0</text>
<line x1="448.50" y1="166.90" x2="452.50" y2="166.90" stroke="#333" stroke-width="1"/>
<text x="443.80" y="171.60" font-size="12.3" text-anchor="end" font-weight="normal" >20</text>
<line x1="448.50" y1="115.30" x2="452.50" y2="115.30" stroke="#333" stroke-width="1"/>
<text x="443.80" y="120.00" font-size="12.3" text-anchor="end" font-weight="normal" >40</text>
<line x1="448.50" y1="63.70" x2="452.50" y2="63.70" stroke="#333" stroke-width="1"/>
<text x="443.80" y="68.40" font-size="12.3" text-anchor="end" font-weight="normal" >60</text>
<line x1="448.50" y1="12.10" x2="452.50" y2="12.10" stroke="#333" stroke-width="1"/>
<text x="443.80" y="16.80" font-size="12.3" text-anchor="end" font-weight="normal" >80</text>
<line x1="566.50" y1="218.50" x2="566.50" y2="222.50" stroke="#333" stroke-width="1"/>
<line x1="681.00" y1="218.50" x2="681.00" y2="222.50" stroke="#333" stroke-width="1"/>
<rect x="477.10" y="115.70" width="33.30" height="102.80" fill="#000"/>
<rect x="510.40" y="168.80" width="32.20" height="49.70" fill="#fff" stroke="#444" stroke-width="1"/>
<rect x="591.00" y="70.30" width="33.20" height="148.20" fill="#000"/>
<rect x="624.20" y="119.30" width="32.60" height="99.20" fill="#fff" stroke="#444" stroke-width="1"/>
<line x1="493.60" y1="115.70" x2="493.60" y2="103.60" stroke="#333" stroke-width="1"/>
<line x1="491.60" y1="103.60" x2="495.60" y2="103.60" stroke="#333" stroke-width="1"/>
<line x1="526.40" y1="168.80" x2="526.40" y2="160.60" stroke="#333" stroke-width="1"/>
<line x1="524.40" y1="160.60" x2="528.40" y2="160.60" stroke="#333" stroke-width="1"/>
<line x1="607.40" y1="70.30" x2="607.40" y2="58.70" stroke="#333" stroke-width="1"/>
<line x1="605.40" y1="58.70" x2="609.40" y2="58.70" stroke="#333" stroke-width="1"/>
<line x1="640.30" y1="119.30" x2="640.30" y2="101.80" stroke="#333" stroke-width="1"/>
<line x1="638.30" y1="101.80" x2="642.30" y2="101.80" stroke="#333" stroke-width="1"/>
<text x="496.30" y="99.25" font-size="12.5" text-anchor="middle" font-weight="normal" >(20)</text>
<text x="526.00" y="156.75" font-size="12.5" text-anchor="middle" font-weight="normal" >(18)</text>
<text x="608.60" y="52.95" font-size="12.5" text-anchor="middle" font-weight="normal" >(6)</text>
<text x="641.40" y="94.65" font-size="12.5" text-anchor="middle" font-weight="normal" >(7)</text>
<polyline points="492.70,42.80 492.70,12.80 529.10,12.80 529.10,104.00" fill="none" stroke="#111" stroke-width="1.3"/>
<text x="507.30" y="15.05" font-size="13.8" text-anchor="middle" font-weight="bold" style="stroke:none">*</text>
<text x="514.50" y="15.05" font-size="13.8" text-anchor="middle" font-weight="bold" style="stroke:none">*</text>
<polyline points="606.70,32.30 606.70,14.50 638.00,14.50 638.00,69.10" fill="none" stroke="#111" stroke-width="1.3"/>
<text x="622.35" y="16.75" font-size="13.8" text-anchor="middle" font-weight="bold" style="stroke:none">*</text>
<text x="510.80" y="240.15" font-size="11.6" text-anchor="middle" font-weight="normal" >1.5</text>
<text x="624.30" y="240.15" font-size="11.6" text-anchor="middle" font-weight="normal" >3</text>
<line x1="466.60" y1="247.00" x2="668.80" y2="247.00" stroke="#000" stroke-width="1.8"/>
<text x="551.60" y="261.50" font-size="13" text-anchor="start" font-weight="normal" >Time (h)</text>
<text x="0.00" y="0.00" font-size="13" text-anchor="middle" font-weight="normal" transform="translate(411.5,110.9) rotate(-90)">Ulcer (mm)</text>
<text x="384.40" y="15.40" font-size="17.3" text-anchor="start" font-weight="bold" >(B)</text>
<line x1="93.20" y1="273.40" x2="93.20" y2="492.50" stroke="#8c8c8c" stroke-width="1.1"/>
<line x1="89.00" y1="488.20" x2="341.50" y2="488.20" stroke="#333" stroke-width="1"/>
<line x1="89.00" y1="488.20" x2="93.20" y2="488.20" stroke="#333" stroke-width="1"/>
<text x="83.80" y="492.90" font-size="12.3" text-anchor="end" font-weight="normal" >0</text>
<line x1="89.00" y1="416.60" x2="93.20" y2="416.60" stroke="#333" stroke-width="1"/>
<text x="83.80" y="421.30" font-size="12.3" text-anchor="end" font-weight="normal" >20</text>
<line x1="89.00" y1="345.00" x2="93.20" y2="345.00" stroke="#333" stroke-width="1"/>
<text x="83.80" y="349.70" font-size="12.3" text-anchor="end" font-weight="normal" >40</text>
<line x1="89.00" y1="273.40" x2="93.20" y2="273.40" stroke="#333" stroke-width="1"/>
<text x="83.80" y="278.10" font-size="12.3" text-anchor="end" font-weight="normal" >60</text>
<line x1="155.20" y1="488.20" x2="155.20" y2="492.50" stroke="#333" stroke-width="1"/>
<line x1="217.20" y1="488.20" x2="217.20" y2="492.50" stroke="#333" stroke-width="1"/>
<line x1="279.20" y1="488.20" x2="279.20" y2="492.50" stroke="#333" stroke-width="1"/>
<line x1="341.20" y1="488.20" x2="341.20" y2="492.50" stroke="#333" stroke-width="1"/>
<rect x="105.70" y="341.80" width="18.60" height="146.40" fill="#000"/>
<rect x="124.30" y="402.40" width="18.30" height="85.80" fill="#fff" stroke="#444" stroke-width="1"/>
<rect x="168.30" y="321.00" width="18.30" height="167.20" fill="#000"/>
<rect x="186.60" y="398.40" width="17.10" height="89.80" fill="#fff" stroke="#444" stroke-width="1"/>
<rect x="230.20" y="353.70" width="18.20" height="134.50" fill="#000"/>
<rect x="248.40" y="392.00" width="17.90" height="96.20" fill="#fff" stroke="#444" stroke-width="1"/>
<rect x="292.20" y="363.20" width="18.30" height="125.00" fill="#000"/>
<rect x="310.50" y="411.10" width="17.50" height="77.10" fill="#fff" stroke="#444" stroke-width="1"/>
<line x1="115.50" y1="341.80" x2="115.50" y2="324.60" stroke="#333" stroke-width="1"/>
<line x1="113.50" y1="324.60" x2="117.50" y2="324.60" stroke="#333" stroke-width="1"/>
<line x1="133.30" y1="402.40" x2="133.30" y2="389.30" stroke="#333" stroke-width="1"/>
<line x1="131.30" y1="389.30" x2="135.30" y2="389.30" stroke="#333" stroke-width="1"/>
<line x1="177.60" y1="321.00" x2="177.60" y2="295.60" stroke="#333" stroke-width="1"/>
<line x1="175.60" y1="295.60" x2="179.60" y2="295.60" stroke="#333" stroke-width="1"/>
<line x1="195.00" y1="398.40" x2="195.00" y2="387.20" stroke="#333" stroke-width="1"/>
<line x1="193.00" y1="387.20" x2="197.00" y2="387.20" stroke="#333" stroke-width="1"/>
<line x1="239.00" y1="353.70" x2="239.00" y2="318.50" stroke="#333" stroke-width="1"/>
<line x1="237.00" y1="318.50" x2="241.00" y2="318.50" stroke="#333" stroke-width="1"/>
<line x1="257.00" y1="392.00" x2="257.00" y2="373.10" stroke="#333" stroke-width="1"/>
<line x1="255.00" y1="373.10" x2="259.00" y2="373.10" stroke="#333" stroke-width="1"/>
<line x1="301.50" y1="363.20" x2="301.50" y2="353.40" stroke="#333" stroke-width="1"/>
<line x1="299.50" y1="353.40" x2="303.50" y2="353.40" stroke="#333" stroke-width="1"/>
<line x1="319.20" y1="411.10" x2="319.20" y2="401.50" stroke="#333" stroke-width="1"/>
<line x1="317.20" y1="401.50" x2="321.20" y2="401.50" stroke="#333" stroke-width="1"/>
<text x="116.00" y="318.05" font-size="12.5" text-anchor="middle" font-weight="normal" >(11)</text>
<text x="134.40" y="384.25" font-size="12.5" text-anchor="middle" font-weight="normal" >(9)</text>
<text x="177.50" y="292.15" font-size="12.5" text-anchor="middle" font-weight="normal" >(7)</text>
<text x="199.30" y="382.85" font-size="12.5" text-anchor="middle" font-weight="normal" >(11)</text>
<text x="239.00" y="315.75" font-size="12.5" text-anchor="middle" font-weight="normal" >(5)</text>
<text x="257.00" y="369.25" font-size="12.5" text-anchor="middle" font-weight="normal" >(5)</text>
<text x="301.50" y="347.65" font-size="12.5" text-anchor="middle" font-weight="normal" >(19)</text>
<text x="343.60" y="390.55" font-size="12.5" text-anchor="middle" font-weight="normal" >(23)</text>
<polyline points="113.50,303.50 113.50,283.20 134.60,283.20 134.60,346.30" fill="none" stroke="#111" stroke-width="1.3"/>
<text x="120.45" y="285.45" font-size="13.8" text-anchor="middle" font-weight="bold" style="stroke:none">*</text>
<text x="127.65" y="285.45" font-size="13.8" text-anchor="middle" font-weight="bold" style="stroke:none">*</text>
<polyline points="175.90,275.40 175.90,263.50 196.50,263.50 196.50,349.20" fill="none" stroke="#111" stroke-width="1.3"/>
<text x="182.60" y="265.75" font-size="13.8" text-anchor="middle" font-weight="bold" style="stroke:none">*</text>
<text x="189.80" y="265.75" font-size="13.8" text-anchor="middle" font-weight="bold" style="stroke:none">*</text>
<polyline points="299.90,326.60 299.90,306.90 320.70,306.90 320.70,369.20" fill="none" stroke="#111" stroke-width="1.3"/>
<text x="306.70" y="309.15" font-size="13.8" text-anchor="middle" font-weight="bold" style="stroke:none">*</text>
<text x="313.90" y="309.15" font-size="13.8" text-anchor="middle" font-weight="bold" style="stroke:none">*</text>
<text x="124.60" y="510.00" font-size="11.6" text-anchor="middle" font-weight="normal" >2 + 0</text>
<text x="186.20" y="510.00" font-size="11.6" text-anchor="middle" font-weight="normal" >0 + 0.5</text>
<text x="247.80" y="510.00" font-size="11.6" text-anchor="middle" font-weight="normal" >2 + 0.5</text>
<text x="309.50" y="510.00" font-size="11.6" text-anchor="middle" font-weight="normal" >2 + 0 + 0.5</text>
<line x1="105.40" y1="515.70" x2="273.70" y2="515.70" stroke="#000" stroke-width="1.8"/>
<text x="187.20" y="531.80" font-size="13" text-anchor="middle" font-weight="normal" >[2]</text>
<text x="309.00" y="530.30" font-size="13" text-anchor="middle" font-weight="normal" >[3]</text>
<text x="0.20" y="511.20" font-size="13.3" text-anchor="start" font-weight="normal" >Injection times (h)</text>
<text x="0.40" y="530.90" font-size="13.3" text-anchor="start" font-weight="normal" >No. of injections</text>
<text x="17.40" y="273.70" font-size="17.3" text-anchor="start" font-weight="bold" >(C)</text>
<text x="0.00" y="0.00" font-size="13" text-anchor="middle" font-weight="normal" transform="translate(51,379.5) rotate(-90)">Ulcer (mm)</text>
<line x1="453.30" y1="266.00" x2="453.30" y2="487.50" stroke="#333" stroke-width="1"/>
<line x1="449.00" y1="483.20" x2="709.00" y2="483.20" stroke="#333" stroke-width="1"/>
<line x1="449.00" y1="483.20" x2="453.30" y2="483.20" stroke="#333" stroke-width="1"/>
<text x="444.10" y="487.90" font-size="12.3" text-anchor="end" font-weight="normal" >0</text>
<line x1="449.00" y1="439.78" x2="453.30" y2="439.78" stroke="#333" stroke-width="1"/>
<text x="444.10" y="444.48" font-size="12.3" text-anchor="end" font-weight="normal" >10</text>
<line x1="449.00" y1="396.36" x2="453.30" y2="396.36" stroke="#333" stroke-width="1"/>
<text x="444.10" y="401.06" font-size="12.3" text-anchor="end" font-weight="normal" >20</text>
<line x1="449.00" y1="352.94" x2="453.30" y2="352.94" stroke="#333" stroke-width="1"/>
<text x="444.10" y="357.64" font-size="12.3" text-anchor="end" font-weight="normal" >30</text>
<line x1="449.00" y1="309.52" x2="453.30" y2="309.52" stroke="#333" stroke-width="1"/>
<text x="444.10" y="314.22" font-size="12.3" text-anchor="end" font-weight="normal" >40</text>
<line x1="449.00" y1="266.10" x2="453.30" y2="266.10" stroke="#333" stroke-width="1"/>
<text x="444.10" y="270.80" font-size="12.3" text-anchor="end" font-weight="normal" >50</text>
<line x1="538.40" y1="483.20" x2="538.40" y2="487.50" stroke="#333" stroke-width="1"/>
<line x1="623.50" y1="483.20" x2="623.50" y2="487.50" stroke="#333" stroke-width="1"/>
<line x1="708.60" y1="483.20" x2="708.60" y2="487.50" stroke="#333" stroke-width="1"/>
<rect x="471.00" y="370.40" width="25.10" height="112.80" fill="#000"/>
<rect x="496.10" y="394.30" width="24.10" height="88.90" fill="#fff" stroke="#444" stroke-width="1"/>
<rect x="556.40" y="325.00" width="24.60" height="158.20" fill="#000"/>
<rect x="581.00" y="380.50" width="23.80" height="102.70" fill="#fff" stroke="#444" stroke-width="1"/>
<rect x="641.50" y="374.00" width="24.60" height="109.20" fill="#000"/>
<rect x="666.10" y="362.00" width="24.20" height="121.20" fill="#fff" stroke="#444" stroke-width="1"/>
<line x1="483.40" y1="370.40" x2="483.40" y2="357.90" stroke="#333" stroke-width="1"/>
<line x1="481.40" y1="357.90" x2="485.40" y2="357.90" stroke="#333" stroke-width="1"/>
<line x1="507.90" y1="394.30" x2="507.90" y2="376.70" stroke="#333" stroke-width="1"/>
<line x1="505.90" y1="376.70" x2="509.90" y2="376.70" stroke="#333" stroke-width="1"/>
<line x1="568.30" y1="325.00" x2="568.30" y2="302.60" stroke="#333" stroke-width="1"/>
<line x1="566.30" y1="302.60" x2="570.30" y2="302.60" stroke="#333" stroke-width="1"/>
<line x1="592.90" y1="380.50" x2="592.90" y2="362.90" stroke="#333" stroke-width="1"/>
<line x1="590.90" y1="362.90" x2="594.90" y2="362.90" stroke="#333" stroke-width="1"/>
<line x1="653.70" y1="374.00" x2="653.70" y2="349.40" stroke="#333" stroke-width="1"/>
<line x1="651.70" y1="349.40" x2="655.70" y2="349.40" stroke="#333" stroke-width="1"/>
<line x1="677.80" y1="362.00" x2="677.80" y2="327.60" stroke="#333" stroke-width="1"/>
<line x1="675.80" y1="327.60" x2="679.80" y2="327.60" stroke="#333" stroke-width="1"/>
<text x="485.50" y="353.65" font-size="12.5" text-anchor="middle" font-weight="normal" >(7)</text>
<text x="508.80" y="371.65" font-size="12.5" text-anchor="middle" font-weight="normal" >(7)</text>
<text x="568.80" y="298.65" font-size="12.5" text-anchor="middle" font-weight="normal" >(11)</text>
<text x="593.20" y="357.75" font-size="12.5" text-anchor="middle" font-weight="normal" >(10)</text>
<text x="654.30" y="342.85" font-size="12.5" text-anchor="middle" font-weight="normal" >(5)</text>
<text x="678.60" y="322.65" font-size="12.5" text-anchor="middle" font-weight="normal" >(5)</text>
<text x="496.20" y="505.05" font-size="11.6" text-anchor="middle" font-weight="normal" >2</text>
<text x="581.20" y="505.05" font-size="11.6" text-anchor="middle" font-weight="normal" >0</text>
<text x="666.20" y="505.05" font-size="11.6" text-anchor="middle" font-weight="normal" >0.5</text>
<line x1="483.00" y1="510.80" x2="689.70" y2="510.80" stroke="#000" stroke-width="1.8"/>
<text x="582.10" y="525.00" font-size="12.8" text-anchor="middle" font-weight="normal" >[1]</text>
<text x="369.60" y="506.70" font-size="13.3" text-anchor="start" font-weight="normal" >Injection times (h)</text>
<text x="370.40" y="523.60" font-size="13.3" text-anchor="start" font-weight="normal" >No. of injections</text>
<text x="385.50" y="261.50" font-size="17.3" text-anchor="start" font-weight="bold" >(D)</text>
<text x="0.00" y="0.00" font-size="13" text-anchor="middle" font-weight="normal" transform="translate(411.5,356.4) rotate(-90)">Ulcer (mm)</text>
<text x="14.20" y="16.00" font-size="17.3" text-anchor="start" font-weight="bold" >(A)</text>
<text x="107.50" y="198.80" font-size="14.5" text-anchor="middle" font-weight="normal" >1.5 h</text>
<text x="287.35" y="198.00" font-size="15" text-anchor="middle" font-weight="normal" >3 h</text>
</svg>
</body></html>
